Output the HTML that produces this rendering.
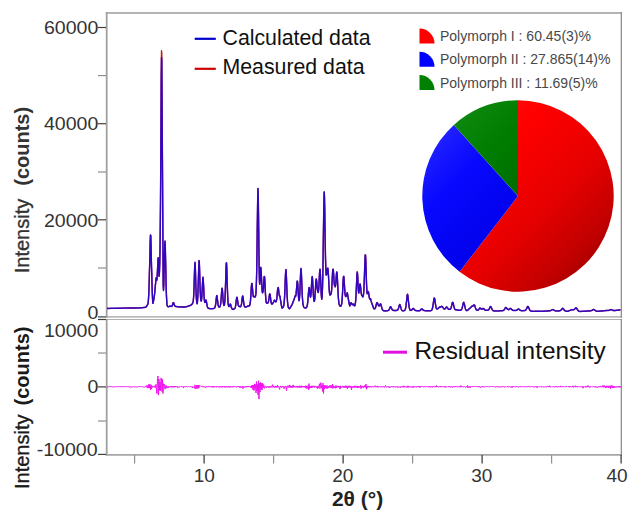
<!DOCTYPE html>
<html><head><meta charset="utf-8">
<style>
html,body{margin:0;padding:0;background:#fff;}
svg{display:block;}
text{font-family:"Liberation Sans",sans-serif;}
</style></head>
<body>
<svg width="638" height="521" viewBox="0 0 638 521">
<defs>
<linearGradient id="gR2" gradientUnits="userSpaceOnUse" x1="422" y1="100" x2="614" y2="292">
<stop offset="0" stop-color="#ff2020"/><stop offset="0.33" stop-color="#ff0000"/><stop offset="0.6" stop-color="#e60000"/><stop offset="0.8" stop-color="#c00000"/><stop offset="1" stop-color="#880000"/>
</linearGradient>
<linearGradient id="gB" gradientUnits="userSpaceOnUse" x1="422" y1="100" x2="614" y2="292">
<stop offset="0" stop-color="#3535ff"/><stop offset="0.3" stop-color="#0808ff"/><stop offset="0.6" stop-color="#0000e6"/><stop offset="1" stop-color="#0000a0"/>
</linearGradient>
<linearGradient id="gG" gradientUnits="userSpaceOnUse" x1="422" y1="100" x2="614" y2="292">
<stop offset="0" stop-color="#1a901a"/><stop offset="0.3" stop-color="#007e00"/><stop offset="0.6" stop-color="#006400"/><stop offset="1" stop-color="#004400"/>
</linearGradient>
</defs>

<!-- frames -->
<g fill="none">
<line x1="105.8" y1="13" x2="622" y2="13" stroke="#b4b4b4" stroke-width="2"/>
<line x1="106.7" y1="12" x2="106.7" y2="317.7" stroke="#a0a0a0" stroke-width="1.8"/>
<line x1="105.8" y1="316.9" x2="622" y2="316.9" stroke="#a0a0a0" stroke-width="1.2"/>
<line x1="621.3" y1="12" x2="621.3" y2="317.7" stroke="#858585" stroke-width="1.2"/>
<line x1="105.8" y1="319.5" x2="622" y2="319.5" stroke="#b0b0b0" stroke-width="1"/>
<line x1="106.7" y1="318.9" x2="106.7" y2="455.7" stroke="#a0a0a0" stroke-width="1.8"/>
<line x1="105.8" y1="454.8" x2="622" y2="454.8" stroke="#a6a6a6" stroke-width="1.7"/>
<line x1="621.3" y1="318.9" x2="621.3" y2="455.7" stroke="#858585" stroke-width="1.2"/>
</g>
<!-- y ticks top -->
<g stroke="#404040" stroke-width="1.2">
<line x1="98" y1="27.5" x2="106" y2="27.5"/>
<line x1="98" y1="123.7" x2="106" y2="123.7"/>
<line x1="98" y1="219.8" x2="106" y2="219.8"/>
<line x1="98" y1="316.9" x2="106" y2="316.9"/>
<line x1="98" y1="319.5" x2="106" y2="319.5"/>
<line x1="98" y1="386.9" x2="106" y2="386.9"/>
<line x1="98" y1="454.4" x2="106" y2="454.4"/>
</g>
<g stroke="#909090" stroke-width="1.2">
<line x1="98" y1="75.6" x2="106" y2="75.6"/>
<line x1="98" y1="172" x2="106" y2="172"/>
<line x1="98" y1="268" x2="106" y2="268"/>
<line x1="98" y1="353" x2="106" y2="353"/>
<line x1="98" y1="421" x2="106" y2="421"/>
</g>
<!-- x ticks -->
<g stroke="#303030" stroke-width="1.2">
<line x1="204.1" y1="455" x2="204.1" y2="463.5"/>
<line x1="343.1" y1="455" x2="343.1" y2="463.5"/>
<line x1="482.1" y1="455" x2="482.1" y2="463.5"/>
<line x1="621.1" y1="455" x2="621.1" y2="463.5"/>
</g>
<g stroke="#909090" stroke-width="1.2">
<line x1="134.6" y1="455" x2="134.6" y2="463.5"/>
<line x1="273.6" y1="455" x2="273.6" y2="463.5"/>
<line x1="412.6" y1="455" x2="412.6" y2="463.5"/>
<line x1="551.6" y1="455" x2="551.6" y2="463.5"/>
</g>

<!-- y labels -->
<g fill="#333" font-size="19" text-anchor="end">
<text transform="translate(98.3,33.5) scale(1.03,1)">60000</text>
<text transform="translate(98.3,130.2) scale(1.03,1)">40000</text>
<text transform="translate(98.3,226.6) scale(1.03,1)">20000</text>
<text transform="translate(98.3,318.5) scale(1.03,1)">0</text>
<text transform="translate(98.3,336.5) scale(1.03,1)">10000</text>
<text transform="translate(98.3,393.4) scale(1.03,1)">0</text>
<text transform="translate(97.6,456.2) scale(1.03,1)">-10000</text>
</g>
<!-- x labels -->
<g fill="#333" font-size="19" text-anchor="middle">
<text transform="translate(204.3,481.6)">10</text>
<text transform="translate(342.8,481.6)">20</text>
<text transform="translate(481.8,481.6)">30</text>
<text transform="translate(617,481.6)">40</text>
</g>
<!-- axis titles -->
<text x="357.5" y="505.8" font-size="21" font-weight="bold" fill="#222" text-anchor="middle">2θ (°)</text>
<text transform="translate(29,146.3) rotate(-90)" font-size="20" font-weight="bold" fill="#333" text-anchor="middle">(counts)</text>
<text transform="translate(29,236) rotate(-90)" font-size="20" fill="#333" stroke="#333" stroke-width="0.35" text-anchor="middle">Intensity</text>
<text transform="translate(29,366) rotate(-90)" font-size="20" font-weight="bold" fill="#1a1a1a" text-anchor="middle">(counts)</text>
<text transform="translate(29,451.8) rotate(-90)" font-size="20" fill="#1a1a1a" stroke="#1a1a1a" stroke-width="0.35" text-anchor="middle">Intensity</text>

<!-- legend -->
<line x1="194.7" y1="38.8" x2="215.8" y2="38.8" stroke="#0000cc" stroke-width="2.2"/>
<line x1="194.7" y1="68.8" x2="215.8" y2="68.8" stroke="#cc0000" stroke-width="2.2"/>
<text x="222.5" y="44.5" font-size="21.3" fill="#111">Calculated data</text>
<text x="222.5" y="73.5" font-size="21.3" fill="#111">Measured data</text>

<line x1="383" y1="352.2" x2="407" y2="352.2" stroke="#e010e0" stroke-width="3"/>
<text x="414.5" y="358.5" font-size="24.4" fill="#111">Residual intensity</text>

<!-- data -->
<polyline points="107.0,308.4 107.2,308.4 107.5,308.4 107.8,308.4 108.0,308.4 108.2,308.4 108.5,308.4 108.8,308.4 109.0,308.4 109.2,308.4 109.5,308.4 109.8,308.4 110.0,308.4 110.2,308.4 110.5,308.3 110.8,308.3 111.0,308.3 111.2,308.3 111.5,308.3 111.8,308.3 112.0,308.3 112.2,308.3 112.5,308.3 112.8,308.3 113.0,308.3 113.2,308.3 113.5,308.3 113.8,308.3 114.0,308.3 114.2,308.3 114.5,308.3 114.8,308.3 115.0,308.3 115.2,308.3 115.5,308.3 115.8,308.3 116.0,308.3 116.2,308.3 116.5,308.3 116.8,308.3 117.0,308.2 117.2,308.2 117.5,308.2 117.8,308.2 118.0,308.2 118.2,308.2 118.5,308.2 118.8,308.2 119.0,308.2 119.2,308.2 119.5,308.2 119.8,308.2 120.0,308.2 120.2,308.2 120.5,308.2 120.8,308.2 121.0,308.2 121.2,308.2 121.5,308.2 121.8,308.2 122.0,308.2 122.2,308.2 122.5,308.2 122.8,308.1 123.0,308.1 123.2,308.1 123.5,308.1 123.8,308.1 124.0,308.1 124.2,308.1 124.5,308.1 124.8,308.1 125.0,308.1 125.2,308.1 125.5,308.1 125.8,308.1 126.0,308.1 126.2,308.1 126.5,308.1 126.8,308.1 127.0,308.1 127.2,308.1 127.5,308.1 127.8,308.1 128.0,308.0 128.2,308.0 128.5,308.0 128.8,308.0 129.0,308.0 129.2,308.0 129.5,308.0 129.8,308.0 130.0,308.0 130.2,308.0 130.5,308.0 130.8,308.0 131.0,308.0 131.2,308.0 131.5,308.0 131.8,308.0 132.0,308.0 132.2,308.0 132.5,308.0 132.8,308.0 133.0,308.0 133.2,308.0 133.5,308.0 133.8,308.0 134.0,308.0 134.2,308.0 134.5,308.0 134.8,308.0 135.0,308.0 135.2,308.0 135.5,308.0 135.8,307.9 136.0,307.9 136.2,307.9 136.5,307.9 136.8,307.9 137.0,307.9 137.2,307.9 137.5,307.9 137.8,307.9 138.0,307.9 138.2,307.9 138.5,307.9 138.8,307.9 139.0,307.9 139.2,307.9 139.5,307.9 139.8,307.8 140.0,307.8 140.2,307.8 140.5,307.8 140.8,307.8 141.0,307.8 141.2,307.8 141.5,307.8 141.8,307.7 142.0,307.7 142.2,307.7 142.5,307.7 142.8,307.7 143.0,307.6 143.2,307.6 143.5,307.6 143.8,307.5 144.0,307.5 144.2,307.5 144.5,307.4 144.8,307.4 145.0,307.3 145.2,307.2 145.5,307.2 145.8,307.1 146.0,307.0 146.2,306.7 146.5,306.4 146.8,306.0 147.0,305.6 147.2,305.2 147.5,304.8 147.8,304.2 148.0,303.6 148.2,302.3 148.5,298.6 148.8,294.3 149.0,288.6 149.2,280.9 149.5,270.0 149.8,261.9 150.0,251.2 150.2,240.5 150.5,235.0 150.8,235.7 151.0,243.3 151.2,254.9 151.5,265.9 151.8,273.8 152.0,283.6 152.2,291.7 152.5,297.9 152.8,303.0 153.0,303.2 153.2,302.1 153.5,300.9 153.8,299.5 154.0,298.1 154.2,296.6 154.5,295.0 154.8,292.3 155.0,289.6 155.2,286.9 155.5,284.0 155.8,281.1 156.0,278.0 156.2,279.4 156.5,280.2 156.8,280.1 157.0,278.5 157.2,275.0 157.5,270.3 157.8,264.5 158.0,259.2 158.2,257.6 158.5,260.3 158.8,267.5 159.0,276.0 159.2,275.1 159.5,271.1 159.8,262.4 160.0,251.1 160.2,231.8 160.5,201.1 160.8,162.9 161.0,118.9 161.2,75.6 161.5,50.6 161.8,53.1 162.0,83.3 162.2,127.8 162.5,170.5 162.8,215.1 163.0,255.4 163.2,284.6 163.5,289.9 163.8,285.0 164.0,275.1 164.2,264.4 164.5,253.7 164.8,244.3 165.0,241.0 165.2,245.3 165.5,255.7 165.8,267.7 166.0,279.9 166.2,289.7 166.5,296.7 166.8,301.5 167.0,304.8 167.2,305.7 167.5,306.2 167.8,306.5 168.0,306.7 168.2,306.7 168.5,306.7 168.8,306.7 169.0,306.6 169.2,306.5 169.5,306.3 169.8,306.2 170.0,306.0 170.2,306.1 170.5,306.2 170.8,306.3 171.0,306.3 171.2,306.4 171.5,306.3 171.8,306.2 172.0,306.0 172.2,305.6 172.5,304.9 172.8,304.1 173.0,303.3 173.2,302.7 173.5,302.6 173.8,303.1 174.0,303.9 174.2,304.7 174.5,305.3 174.8,305.8 175.0,306.0 175.2,306.2 175.5,306.4 175.8,306.5 176.0,306.5 176.2,306.6 176.5,306.6 176.8,306.6 177.0,306.7 177.2,306.7 177.5,306.7 177.8,306.7 178.0,306.8 178.2,306.8 178.5,306.8 178.8,306.8 179.0,306.8 179.2,306.9 179.5,306.9 179.8,306.9 180.0,306.9 180.2,306.9 180.5,306.9 180.8,306.9 181.0,306.9 181.2,306.9 181.5,307.0 181.8,307.0 182.0,307.0 182.2,307.0 182.5,307.0 182.8,307.0 183.0,307.0 183.2,307.0 183.5,307.0 183.8,307.0 184.0,307.0 184.2,307.0 184.5,307.0 184.8,307.0 185.0,307.0 185.2,306.9 185.5,306.9 185.8,306.8 186.0,306.8 186.2,306.7 186.5,306.6 186.8,306.6 187.0,306.5 187.2,306.5 187.5,306.4 187.8,306.3 188.0,306.2 188.2,306.2 188.5,306.1 188.8,306.0 189.0,305.9 189.2,305.8 189.5,305.7 189.8,305.7 190.0,305.5 190.2,305.4 190.5,305.3 190.8,305.2 191.0,305.0 191.2,304.9 191.5,304.7 191.8,304.5 192.0,304.2 192.2,303.9 192.5,303.5 192.8,302.9 193.0,302.2 193.2,300.9 193.5,298.4 193.8,294.4 194.0,288.4 194.2,280.7 194.5,272.2 194.8,265.1 195.0,262.3 195.2,265.4 195.5,272.9 195.8,281.7 196.0,289.7 196.2,295.9 196.5,300.1 196.8,302.6 197.0,303.7 197.2,303.5 197.5,301.5 197.8,297.7 198.0,291.9 198.2,284.0 198.5,274.9 198.8,266.2 199.0,260.6 199.2,261.1 199.5,267.1 199.8,275.8 200.0,284.4 200.2,291.4 200.5,296.4 200.8,299.4 201.0,300.8 201.2,301.0 201.5,300.0 201.8,297.6 202.0,293.9 202.2,288.9 202.5,283.5 202.8,278.9 203.0,277.2 203.2,279.2 203.5,284.0 203.8,289.6 204.0,294.8 204.2,298.7 204.5,301.2 204.8,302.4 205.0,302.5 205.2,301.9 205.5,301.0 205.8,300.2 206.0,300.0 206.2,300.7 206.5,302.0 206.8,303.6 207.0,305.0 207.2,306.2 207.5,307.0 207.8,307.6 208.0,308.0 208.2,308.2 208.5,308.3 208.8,308.4 209.0,308.5 209.2,308.5 209.5,308.6 209.8,308.6 210.0,308.6 210.2,308.7 210.5,308.7 210.8,308.7 211.0,308.7 211.2,308.7 211.5,308.7 211.8,308.7 212.0,308.7 212.2,308.7 212.5,308.7 212.8,308.7 213.0,308.7 213.2,308.6 213.5,308.6 213.8,308.5 214.0,308.4 214.2,308.2 214.5,308.0 214.8,307.7 215.0,307.2 215.2,306.4 215.5,305.2 215.8,303.5 216.0,301.4 216.2,298.9 216.5,296.8 216.8,295.6 217.0,296.1 217.2,297.8 217.5,300.1 217.8,302.4 218.0,304.2 218.2,305.5 218.5,306.3 218.8,306.8 219.0,307.0 219.2,307.1 219.5,307.0 219.8,306.9 220.0,306.5 220.2,305.9 220.5,304.9 220.8,303.2 221.0,300.7 221.2,297.5 221.5,293.8 221.8,290.4 222.0,288.2 222.2,288.5 222.5,291.0 222.8,294.6 223.0,298.3 223.2,301.3 223.5,303.5 223.8,304.9 224.0,305.5 224.2,305.3 224.5,304.2 224.8,302.0 225.0,298.4 225.2,293.0 225.5,285.8 225.8,277.4 226.0,269.1 226.2,263.4 226.5,262.8 226.8,267.7 227.0,275.7 227.2,284.3 227.5,291.9 227.8,297.7 228.0,301.7 228.2,304.3 228.5,305.7 228.8,306.5 229.0,306.5 229.2,306.2 229.5,305.6 229.8,305.0 230.0,304.4 230.2,304.0 230.5,304.3 230.8,305.1 231.0,306.0 231.2,306.9 231.5,307.7 231.8,308.3 232.0,308.7 232.2,309.0 232.5,309.3 232.8,309.4 233.0,309.4 233.2,309.3 233.5,309.2 233.8,309.1 234.0,309.0 234.2,308.9 234.5,308.7 234.8,308.5 235.0,308.0 235.2,307.4 235.5,306.4 235.8,305.0 236.0,303.1 236.2,300.9 236.5,298.9 236.8,297.4 237.0,297.2 237.2,298.2 237.5,300.0 237.8,301.9 238.0,303.6 238.2,304.9 238.5,305.7 238.8,306.2 239.0,306.4 239.2,306.5 239.5,306.4 239.8,306.6 240.0,306.7 240.2,306.7 240.5,306.7 240.8,306.4 241.0,306.0 241.2,305.2 241.5,303.9 241.8,302.2 242.0,300.1 242.2,297.9 242.5,296.4 242.8,296.0 243.0,296.9 243.2,298.8 243.5,301.0 243.8,303.0 244.0,304.6 244.2,305.7 244.5,306.4 244.8,306.8 245.0,307.0 245.2,307.0 245.5,307.0 245.8,307.0 246.0,306.9 246.2,306.9 246.5,306.8 246.8,306.7 247.0,306.6 247.2,306.4 247.5,306.3 247.8,306.2 248.0,306.0 248.2,306.0 248.5,306.1 248.8,306.1 249.0,306.0 249.2,305.9 249.5,305.6 249.8,305.1 250.0,304.3 250.2,302.8 250.5,300.5 250.8,297.3 251.0,293.3 251.2,288.9 251.5,285.2 251.8,283.4 252.0,283.4 252.2,285.5 252.5,288.7 252.8,292.0 253.0,294.5 253.2,296.1 253.5,296.8 253.8,296.8 254.0,296.3 254.2,296.4 254.5,296.8 254.8,297.0 255.0,297.0 255.2,296.8 255.5,296.2 255.8,294.8 256.0,292.1 256.2,287.3 256.5,279.4 256.8,267.5 257.0,251.3 257.2,231.6 257.5,211.2 257.8,194.8 258.0,188.5 258.2,196.4 258.5,214.3 258.8,235.9 259.0,256.1 259.2,272.1 259.5,282.6 259.8,284.2 260.0,281.6 260.2,276.4 260.5,270.8 260.8,267.3 261.0,268.3 261.2,272.6 261.5,278.4 261.8,284.0 262.0,288.5 262.2,291.5 262.5,292.7 262.8,292.3 263.0,291.6 263.2,289.7 263.5,286.5 263.8,282.5 264.0,278.6 264.2,276.4 264.5,276.8 264.8,279.6 265.0,284.4 265.2,289.6 265.5,294.4 265.8,298.1 266.0,300.6 266.2,302.1 266.5,302.9 266.8,303.2 267.0,303.2 267.2,303.1 267.5,302.7 267.8,302.9 268.0,302.9 268.2,302.4 268.5,301.5 268.8,300.1 269.0,298.2 269.2,296.2 269.5,294.6 269.8,293.9 270.0,294.2 270.2,295.7 270.5,297.7 270.8,299.8 271.0,301.6 271.2,302.8 271.5,303.6 271.8,304.0 272.0,304.1 272.2,304.0 272.5,303.7 272.8,303.3 273.0,302.9 273.2,302.5 273.5,302.1 273.8,301.6 274.0,301.2 274.2,300.7 274.5,300.2 274.8,300.3 275.0,300.8 275.2,301.2 275.5,301.6 275.8,301.8 276.0,301.8 276.2,301.4 276.5,300.4 276.8,298.8 277.0,296.4 277.2,293.5 277.5,290.5 277.8,288.2 278.0,287.7 278.2,287.5 278.5,289.0 278.8,291.3 279.0,293.5 279.2,295.2 279.5,296.1 279.8,296.3 280.0,296.0 280.2,298.0 280.5,299.8 280.8,301.4 281.0,302.9 281.2,304.3 281.5,305.8 281.8,307.2 282.0,308.0 282.2,307.9 282.5,307.7 282.8,307.6 283.0,307.3 283.2,307.0 283.5,306.4 283.8,305.5 284.0,304.0 284.2,301.7 284.5,298.2 284.8,293.4 285.0,287.3 285.2,280.5 285.5,274.2 285.8,270.0 286.0,269.6 286.2,273.2 286.5,279.3 286.8,286.2 287.0,292.5 287.2,297.7 287.5,301.5 287.8,304.1 288.0,305.8 288.2,306.9 288.5,307.6 288.8,308.0 289.0,308.4 289.2,308.7 289.5,308.7 289.8,308.3 290.0,308.0 290.2,307.6 290.5,307.2 290.8,306.8 291.0,306.4 291.2,305.9 291.5,305.5 291.8,305.0 292.0,304.6 292.2,304.1 292.5,303.5 292.8,302.9 293.0,302.2 293.2,301.5 293.5,300.9 293.8,300.2 294.0,299.5 294.2,298.7 294.5,297.9 294.8,297.0 295.0,296.0 295.2,296.4 295.5,296.5 295.8,295.9 296.0,294.6 296.2,292.4 296.5,289.4 296.8,286.0 297.0,282.9 297.2,281.1 297.5,281.5 297.8,284.0 298.0,288.1 298.2,292.6 298.5,296.6 298.8,299.6 299.0,300.7 299.2,300.2 299.5,298.0 299.8,294.2 300.0,288.8 300.2,282.4 300.5,275.8 300.8,270.6 301.0,268.5 301.2,270.6 301.5,275.8 301.8,282.4 302.0,288.9 302.2,294.6 302.5,299.0 302.8,302.1 303.0,304.2 303.2,305.5 303.5,306.3 303.8,306.9 304.0,307.2 304.2,307.5 304.5,307.6 304.8,307.8 305.0,307.9 305.2,307.9 305.5,308.0 305.8,308.0 306.0,307.9 306.2,307.7 306.5,307.4 306.8,307.0 307.0,306.4 307.2,305.5 307.5,304.0 307.8,302.0 308.0,299.3 308.2,296.0 308.5,292.6 308.8,289.5 309.0,287.6 309.2,287.6 309.5,289.4 309.8,292.0 310.0,294.7 310.2,296.5 310.5,297.1 310.8,296.3 311.0,293.9 311.2,290.1 311.5,285.5 311.8,280.9 312.0,277.5 312.2,276.6 312.5,278.7 312.8,282.8 313.0,287.8 313.2,292.6 313.5,296.5 313.8,299.3 314.0,300.9 314.2,301.4 314.5,300.7 314.8,298.8 315.0,295.9 315.2,292.0 315.5,287.6 315.8,283.3 316.0,280.1 316.2,279.0 316.5,279.7 316.8,282.1 317.0,285.3 317.2,288.2 317.5,290.3 317.8,291.3 318.0,292.4 318.2,292.5 318.5,291.1 318.8,288.3 319.0,284.2 319.2,279.2 319.5,274.1 319.8,270.3 320.0,269.2 320.2,271.4 320.5,276.4 320.8,282.5 321.0,288.6 321.2,293.7 321.5,297.3 321.8,299.2 322.0,298.1 322.2,294.4 322.5,287.7 322.8,277.7 323.0,263.9 323.2,246.7 323.5,227.6 323.8,209.3 324.0,196.0 324.2,191.9 324.5,197.8 324.8,211.5 325.0,228.3 325.2,244.6 325.5,258.0 325.8,267.6 326.0,273.2 326.2,275.1 326.5,273.9 326.8,274.3 327.0,272.9 327.2,270.6 327.5,268.5 327.8,268.1 328.0,269.3 328.2,271.7 328.5,276.1 328.8,281.3 329.0,286.1 329.2,290.0 329.5,292.8 329.8,294.4 330.0,295.1 330.2,295.1 330.5,294.4 330.8,294.3 331.0,294.2 331.2,293.2 331.5,291.2 331.8,288.0 332.0,283.7 332.2,278.7 332.5,273.7 332.8,270.0 333.0,269.2 333.2,269.2 333.5,272.0 333.8,276.1 334.0,280.2 334.2,283.4 334.5,285.4 334.8,285.8 335.0,286.0 335.2,286.8 335.5,286.0 335.8,283.9 336.0,280.6 336.2,276.9 336.5,273.5 336.8,272.0 337.0,272.8 337.2,275.6 337.5,280.5 337.8,286.1 338.0,291.4 338.2,296.0 338.5,299.4 338.8,301.8 339.0,303.4 339.2,304.5 339.5,305.2 339.8,305.7 340.0,306.0 340.2,306.1 340.5,306.2 340.8,306.1 341.0,305.9 341.2,305.4 341.5,304.5 341.8,303.1 342.0,300.8 342.2,297.7 342.5,293.5 342.8,288.7 343.0,283.6 343.2,279.2 343.5,276.7 343.8,276.4 344.0,278.4 344.2,282.1 344.5,286.3 344.8,290.1 345.0,293.1 345.2,295.1 345.5,296.2 345.8,296.6 346.0,296.5 346.2,296.0 346.5,295.4 346.8,294.5 347.0,293.6 347.2,292.7 347.5,293.8 347.8,295.4 348.0,297.0 348.2,298.5 348.5,300.0 348.8,301.4 349.0,302.8 349.2,304.0 349.5,305.0 349.8,305.9 350.0,305.4 350.2,304.5 350.5,303.6 350.8,303.0 351.0,302.7 351.2,302.8 351.5,303.3 351.8,303.9 352.0,304.4 352.2,304.7 352.5,304.7 352.8,304.4 353.0,304.2 353.2,304.0 353.5,304.2 353.8,304.6 354.0,305.2 354.2,305.6 354.5,305.8 354.8,305.8 355.0,305.3 355.2,304.2 355.5,302.3 355.8,299.4 356.0,295.5 356.2,290.6 356.5,284.9 356.8,279.1 357.0,274.4 357.2,271.9 357.5,273.4 357.8,277.6 358.0,283.1 358.2,288.5 358.5,292.1 358.8,293.0 359.0,292.3 359.2,290.3 359.5,287.5 359.8,285.1 360.0,283.9 360.2,284.2 360.5,286.0 360.8,288.5 361.0,291.1 361.2,293.2 361.5,294.7 361.8,295.5 362.0,295.6 362.2,295.5 362.5,296.4 362.8,296.9 363.0,296.8 363.2,296.1 363.5,294.3 363.8,291.4 364.0,286.9 364.2,280.9 364.5,273.7 364.8,266.0 365.0,259.1 365.2,254.9 365.5,255.0 365.8,259.5 366.0,266.9 366.2,275.2 366.5,283.0 366.8,289.2 367.0,292.8 367.2,293.7 367.5,293.3 367.8,292.2 368.0,291.4 368.2,291.4 368.5,292.3 368.8,293.9 369.0,295.6 369.2,297.1 369.5,298.3 369.8,299.0 370.0,299.2 370.2,299.1 370.5,298.7 370.8,299.7 371.0,300.6 371.2,301.5 371.5,302.3 371.8,303.0 372.0,303.7 372.2,304.4 372.5,305.1 372.8,305.8 373.0,306.5 373.2,307.2 373.5,307.8 373.8,308.4 374.0,308.8 374.2,308.8 374.5,308.8 374.8,308.7 375.0,308.5 375.2,308.1 375.5,307.5 375.8,306.8 376.0,305.8 376.2,304.7 376.5,303.7 376.8,303.0 377.0,302.7 377.2,302.6 377.5,303.1 377.8,303.8 378.0,304.5 378.2,305.1 378.5,305.4 378.8,305.7 379.0,306.0 379.2,305.9 379.5,305.6 379.8,305.1 380.0,304.5 380.2,304.0 380.5,303.9 380.8,304.1 381.0,304.8 381.2,305.7 381.5,306.7 381.8,307.7 382.0,308.5 382.2,309.2 382.5,309.7 382.8,310.1 383.0,310.3 383.2,310.5 383.5,310.7 383.8,310.8 384.0,310.8 384.2,310.8 384.5,310.8 384.8,310.9 385.0,310.9 385.2,310.9 385.5,310.9 385.8,310.8 386.0,310.8 386.2,310.8 386.5,310.8 386.8,310.8 387.0,310.8 387.2,310.7 387.5,310.7 387.8,310.6 388.0,310.6 388.2,310.5 388.5,310.3 388.8,310.1 389.0,309.7 389.2,309.3 389.5,308.8 389.8,308.2 390.0,307.6 390.2,307.0 390.5,306.7 390.8,306.8 391.0,307.1 391.2,307.6 391.5,308.2 391.8,308.8 392.0,309.3 392.2,309.7 392.5,309.9 392.8,310.1 393.0,310.3 393.2,310.4 393.5,310.4 393.8,310.5 394.0,310.5 394.2,310.5 394.5,310.5 394.8,310.5 395.0,310.5 395.2,310.5 395.5,310.5 395.8,310.5 396.0,310.5 396.2,310.5 396.5,310.4 396.8,310.4 397.0,310.3 397.2,310.2 397.5,310.1 397.8,309.8 398.0,309.4 398.2,308.9 398.5,308.2 398.8,307.4 399.0,306.5 399.2,305.6 399.5,304.9 399.8,304.5 400.0,304.7 400.2,305.4 400.5,306.3 400.8,307.2 401.0,308.2 401.2,309.0 401.5,309.6 401.8,310.1 402.0,310.4 402.2,310.6 402.5,310.7 402.8,310.7 403.0,310.8 403.2,310.8 403.5,310.8 403.8,310.7 404.0,310.7 404.2,310.6 404.5,310.5 404.8,310.2 405.0,309.9 405.2,309.3 405.5,308.5 405.8,307.4 406.0,305.9 406.2,303.9 406.5,301.6 406.8,299.1 407.0,296.8 407.2,295.0 407.5,294.3 407.8,295.0 408.0,296.8 408.2,299.2 408.5,301.7 408.8,304.0 409.0,306.0 409.2,307.5 409.5,308.6 409.8,309.4 410.0,310.0 410.2,310.2 410.5,310.3 410.8,310.4 411.0,310.4 411.2,310.3 411.5,310.2 411.8,310.0 412.0,309.7 412.2,309.4 412.5,309.0 412.8,308.7 413.0,308.5 413.2,308.4 413.5,308.5 413.8,308.8 414.0,309.1 414.2,309.5 414.5,309.8 414.8,310.0 415.0,310.2 415.2,310.4 415.5,310.5 415.8,310.6 416.0,310.6 416.2,310.6 416.5,310.7 416.8,310.7 417.0,310.7 417.2,310.7 417.5,310.7 417.8,310.8 418.0,310.8 418.2,310.8 418.5,310.8 418.8,310.8 419.0,310.8 419.2,310.7 419.5,310.7 419.8,310.6 420.0,310.5 420.2,310.3 420.5,310.1 420.8,309.8 421.0,309.5 421.2,309.2 421.5,309.0 421.8,308.9 422.0,308.9 422.2,309.1 422.5,309.4 422.8,309.6 423.0,309.9 423.2,310.1 423.5,310.3 423.8,310.4 424.0,310.5 424.2,310.6 424.5,310.6 424.8,310.6 425.0,310.7 425.2,310.7 425.5,310.7 425.8,310.7 426.0,310.8 426.2,310.8 426.5,310.8 426.8,310.8 427.0,310.8 427.2,310.8 427.5,310.8 427.8,310.8 428.0,310.8 428.2,310.8 428.5,310.8 428.8,310.8 429.0,310.8 429.2,310.8 429.5,310.8 429.8,310.8 430.0,310.8 430.2,310.8 430.5,310.7 430.8,310.7 431.0,310.6 431.2,310.5 431.5,310.3 431.8,310.0 432.0,309.6 432.2,309.0 432.5,308.1 432.8,307.0 433.0,305.5 433.2,303.8 433.5,301.9 433.8,300.1 434.0,298.7 434.2,298.0 434.5,298.3 434.8,299.3 435.0,300.9 435.2,302.7 435.5,304.4 435.8,305.9 436.0,307.1 436.2,308.0 436.5,308.6 436.8,308.9 437.0,309.0 437.2,309.0 437.5,308.8 437.8,308.7 438.0,308.5 438.2,308.3 438.5,308.1 438.8,307.9 439.0,307.6 439.2,307.3 439.5,307.0 439.8,307.2 440.0,307.3 440.2,307.3 440.5,307.2 440.8,307.0 441.0,306.8 441.2,306.5 441.5,306.3 441.8,306.4 442.0,306.5 442.2,306.6 442.5,306.9 442.8,307.3 443.0,307.7 443.2,308.0 443.5,308.3 443.8,308.5 444.0,308.8 444.2,308.9 444.5,309.0 444.8,309.0 445.0,308.8 445.2,308.5 445.5,308.2 445.8,307.8 446.0,307.4 446.2,307.1 446.5,307.0 446.8,307.0 447.0,307.2 447.2,307.6 447.5,308.0 447.8,308.4 448.0,308.8 448.2,309.0 448.5,309.2 448.8,309.3 449.0,309.4 449.2,309.3 449.5,309.3 449.8,309.3 450.0,309.3 450.2,309.2 450.5,308.9 450.8,308.6 451.0,308.0 451.2,307.2 451.5,306.3 451.8,305.2 452.0,304.1 452.2,303.1 452.5,302.4 452.8,302.3 453.0,302.7 453.2,303.5 453.5,304.6 453.8,305.8 454.0,306.9 454.2,307.8 454.5,308.5 454.8,309.0 455.0,309.3 455.2,309.6 455.5,309.7 455.8,309.8 456.0,309.8 456.2,309.8 456.5,309.8 456.8,309.9 457.0,310.0 457.2,310.0 457.5,310.0 457.8,310.1 458.0,310.1 458.2,310.2 458.5,310.2 458.8,310.2 459.0,310.3 459.2,310.3 459.5,310.3 459.8,310.3 460.0,310.3 460.2,310.2 460.5,310.2 460.8,310.1 461.0,310.0 461.2,309.8 461.5,309.5 461.8,309.0 462.0,308.4 462.2,307.5 462.5,306.5 462.8,305.4 463.0,304.2 463.2,303.2 463.5,302.5 463.8,302.3 464.0,302.8 464.2,303.7 464.5,304.8 464.8,306.0 465.0,307.2 465.2,308.2 465.5,309.0 465.8,309.6 466.0,310.0 466.2,310.3 466.5,310.5 466.8,310.7 467.0,310.6 467.2,310.4 467.5,310.3 467.8,310.1 468.0,309.9 468.2,309.7 468.5,309.5 468.8,309.2 469.0,309.0 469.2,308.8 469.5,308.6 469.8,308.4 470.0,308.1 470.2,307.9 470.5,307.7 470.8,307.4 471.0,307.2 471.2,306.9 471.5,306.6 471.8,306.2 472.0,306.1 472.2,306.2 472.5,306.3 472.8,306.2 473.0,306.0 473.2,305.7 473.5,305.3 473.8,305.0 474.0,304.9 474.2,305.0 474.5,305.2 474.8,305.7 475.0,306.4 475.2,307.2 475.5,308.0 475.8,308.6 476.0,309.2 476.2,309.6 476.5,309.9 476.8,310.1 477.0,310.3 477.2,310.3 477.5,310.3 477.8,310.3 478.0,310.1 478.2,310.0 478.5,309.7 478.8,309.4 479.0,309.1 479.2,308.7 479.5,308.4 479.8,308.1 480.0,308.0 480.2,308.1 480.5,308.3 480.8,308.6 481.0,308.9 481.2,309.1 481.5,309.3 481.8,309.3 482.0,309.2 482.2,309.0 482.5,308.8 482.8,308.6 483.0,308.4 483.2,308.4 483.5,308.5 483.8,308.7 484.0,309.0 484.2,309.3 484.5,309.6 484.8,309.8 485.0,310.0 485.2,310.1 485.5,310.2 485.8,310.3 486.0,310.3 486.2,310.3 486.5,310.3 486.8,310.3 487.0,310.3 487.2,310.3 487.5,310.3 487.8,310.3 488.0,310.2 488.2,310.1 488.5,309.9 488.8,309.6 489.0,309.3 489.2,308.8 489.5,308.3 489.8,307.7 490.0,307.2 490.2,306.7 490.5,306.5 490.8,306.6 491.0,306.9 491.2,307.4 491.5,308.0 491.8,308.6 492.0,309.2 492.2,309.6 492.5,310.0 492.8,310.3 493.0,310.5 493.2,310.7 493.5,310.8 493.8,310.8 494.0,310.9 494.2,310.9 494.5,310.9 494.8,310.9 495.0,310.9 495.2,310.9 495.5,310.9 495.8,310.9 496.0,310.9 496.2,310.9 496.5,310.9 496.8,310.9 497.0,310.9 497.2,310.9 497.5,310.9 497.8,310.9 498.0,310.9 498.2,310.9 498.5,310.9 498.8,310.9 499.0,310.9 499.2,310.9 499.5,310.8 499.8,310.8 500.0,310.8 500.2,310.8 500.5,310.8 500.8,310.8 501.0,310.8 501.2,310.8 501.5,310.7 501.8,310.7 502.0,310.7 502.2,310.7 502.5,310.7 502.8,310.6 503.0,310.6 503.2,310.5 503.5,310.4 503.8,310.2 504.0,310.0 504.2,309.6 504.5,309.3 504.8,308.8 505.0,308.4 505.2,308.0 505.5,307.7 505.8,307.5 506.0,307.5 506.2,307.7 506.5,308.0 506.8,308.3 507.0,308.7 507.2,309.0 507.5,309.2 507.8,309.3 508.0,309.5 508.2,309.6 508.5,309.7 508.8,309.6 509.0,309.5 509.2,309.3 509.5,309.0 509.8,308.8 510.0,308.6 510.2,308.4 510.5,308.4 510.8,308.5 511.0,308.7 511.2,308.9 511.5,309.2 511.8,309.5 512.0,309.8 512.2,310.0 512.5,310.2 512.8,310.3 513.0,310.4 513.2,310.4 513.5,310.4 513.8,310.4 514.0,310.4 514.2,310.4 514.5,310.4 514.8,310.4 515.0,310.4 515.2,310.4 515.5,310.4 515.8,310.4 516.0,310.4 516.2,310.4 516.5,310.3 516.8,310.2 517.0,310.0 517.2,309.8 517.5,309.6 517.8,309.4 518.0,309.2 518.2,309.0 518.5,309.0 518.8,309.1 519.0,309.2 519.2,309.4 519.5,309.7 519.8,309.9 520.0,310.1 520.2,310.3 520.5,310.4 520.8,310.5 521.0,310.6 521.2,310.6 521.5,310.7 521.8,310.7 522.0,310.7 522.2,310.7 522.5,310.7 522.8,310.7 523.0,310.7 523.2,310.7 523.5,310.6 523.8,310.6 524.0,310.6 524.2,310.6 524.5,310.6 524.8,310.5 525.0,310.5 525.2,310.4 525.5,310.2 525.8,310.0 526.0,309.7 526.2,309.4 526.5,308.9 526.8,308.4 527.0,307.8 527.2,307.2 527.5,306.7 527.8,306.4 528.0,306.4 528.2,306.7 528.5,307.2 528.8,307.8 529.0,308.4 529.2,309.0 529.5,309.5 529.8,310.0 530.0,310.3 530.2,310.6 530.5,310.8 530.8,310.9 531.0,311.0 531.2,311.1 531.5,311.2 531.8,311.2 532.0,311.2 532.2,311.2 532.5,311.2 532.8,311.3 533.0,311.3 533.2,311.3 533.5,311.3 533.8,311.3 534.0,311.3 534.2,311.3 534.5,311.3 534.8,311.3 535.0,311.3 535.2,311.3 535.5,311.2 535.8,311.2 536.0,311.2 536.2,311.2 536.5,311.2 536.8,311.2 537.0,311.2 537.2,311.2 537.5,311.2 537.8,311.2 538.0,311.2 538.2,311.2 538.5,311.2 538.8,311.2 539.0,311.2 539.2,311.2 539.5,311.2 539.8,311.2 540.0,311.3 540.2,311.3 540.5,311.3 540.8,311.3 541.0,311.3 541.2,311.3 541.5,311.3 541.8,311.3 542.0,311.3 542.2,311.3 542.5,311.3 542.8,311.2 543.0,311.2 543.2,311.2 543.5,311.2 543.8,311.2 544.0,311.2 544.2,311.2 544.5,311.1 544.8,311.1 545.0,311.1 545.2,311.1 545.5,311.1 545.8,311.1 546.0,311.1 546.2,311.1 546.5,311.0 546.8,311.0 547.0,311.0 547.2,311.0 547.5,311.0 547.8,311.0 548.0,311.0 548.2,310.9 548.5,310.9 548.8,310.9 549.0,310.9 549.2,310.9 549.5,310.8 549.8,310.8 550.0,310.8 550.2,310.7 550.5,310.6 550.8,310.5 551.0,310.4 551.2,310.3 551.5,310.1 551.8,310.0 552.0,309.9 552.2,309.7 552.5,309.6 552.8,309.6 553.0,309.6 553.2,309.7 553.5,309.9 553.8,310.0 554.0,310.2 554.2,310.4 554.5,310.5 554.8,310.6 555.0,310.7 555.2,310.8 555.5,310.8 555.8,310.9 556.0,310.9 556.2,310.9 556.5,310.9 556.8,310.9 557.0,310.9 557.2,310.9 557.5,310.9 557.8,310.9 558.0,310.9 558.2,310.9 558.5,310.9 558.8,310.9 559.0,310.9 559.2,310.9 559.5,310.8 559.8,310.8 560.0,310.7 560.2,310.6 560.5,310.5 560.8,310.3 561.0,310.1 561.2,309.8 561.5,309.5 561.8,309.2 562.0,308.8 562.2,308.5 562.5,308.4 562.8,308.3 563.0,308.4 563.2,308.7 563.5,309.0 563.8,309.4 564.0,309.7 564.2,310.1 564.5,310.3 564.8,310.6 565.0,310.7 565.2,310.9 565.5,311.0 565.8,311.1 566.0,311.1 566.2,311.2 566.5,311.2 566.8,311.2 567.0,311.3 567.2,311.3 567.5,311.3 567.8,311.3 568.0,311.2 568.2,311.1 568.5,311.0 568.8,310.9 569.0,310.8 569.2,310.7 569.5,310.6 569.8,310.5 570.0,310.4 570.2,310.3 570.5,310.2 570.8,310.1 571.0,310.0 571.2,309.9 571.5,309.8 571.8,309.7 572.0,309.6 572.2,309.7 572.5,309.7 572.8,309.8 573.0,309.8 573.2,309.8 573.5,309.8 573.8,309.7 574.0,309.6 574.2,309.5 574.5,309.3 574.8,309.0 575.0,308.7 575.2,308.4 575.5,308.1 575.8,307.9 576.0,307.8 576.2,307.9 576.5,308.1 576.8,308.5 577.0,308.9 577.2,309.3 577.5,309.8 577.8,310.1 578.0,310.5 578.2,310.7 578.5,310.9 578.8,311.1 579.0,311.3 579.2,311.3 579.5,311.4 579.8,311.4 580.0,311.4 580.2,311.4 580.5,311.4 580.8,311.4 581.0,311.4 581.2,311.4 581.5,311.4 581.8,311.3 582.0,311.3 582.2,311.3 582.5,311.3 582.8,311.3 583.0,311.3 583.2,311.3 583.5,311.3 583.8,311.3 584.0,311.2 584.2,311.2 584.5,311.2 584.8,311.2 585.0,311.2 585.2,311.2 585.5,311.2 585.8,311.1 586.0,311.1 586.2,311.1 586.5,311.1 586.8,311.1 587.0,311.1 587.2,311.0 587.5,311.0 587.8,311.0 588.0,311.0 588.2,311.0 588.5,311.0 588.8,310.9 589.0,310.9 589.2,310.9 589.5,310.9 589.8,310.9 590.0,310.8 590.2,310.8 590.5,310.8 590.8,310.7 591.0,310.7 591.2,310.6 591.5,310.5 591.8,310.5 592.0,310.4 592.2,310.2 592.5,310.1 592.8,309.9 593.0,309.7 593.2,309.6 593.5,309.5 593.8,309.5 594.0,309.6 594.2,309.7 594.5,309.9 594.8,310.1 595.0,310.3 595.2,310.5 595.5,310.7 595.8,310.8 596.0,310.9 596.2,311.0 596.5,311.1 596.8,311.2 597.0,311.2 597.2,311.3 597.5,311.3 597.8,311.3 598.0,311.3 598.2,311.3 598.5,311.2 598.8,311.2 599.0,311.2 599.2,311.2 599.5,311.2 599.8,311.1 600.0,311.1 600.2,311.1 600.5,311.1 600.8,311.0 601.0,311.0 601.2,311.0 601.5,311.0 601.8,311.0 602.0,310.9 602.2,310.9 602.5,310.9 602.8,310.9 603.0,310.8 603.2,310.8 603.5,310.8 603.8,310.8 604.0,310.8 604.2,310.7 604.5,310.7 604.8,310.7 605.0,310.7 605.2,310.6 605.5,310.6 605.8,310.6 606.0,310.6 606.2,310.5 606.5,310.5 606.8,310.5 607.0,310.4 607.2,310.4 607.5,310.4 607.8,310.4 608.0,310.4 608.2,310.4 608.5,310.4 608.8,310.4 609.0,310.3 609.2,310.3 609.5,310.2 609.8,310.0 610.0,309.9 610.2,309.8 610.5,309.7 610.8,309.6 611.0,309.6 611.2,309.6 611.5,309.7 611.8,309.8 612.0,309.9 612.2,310.1 612.5,310.2 612.8,310.3 613.0,310.4 613.2,310.5 613.5,310.5 613.8,310.5 614.0,310.5 614.2,310.5 614.5,310.5 614.8,310.5 615.0,310.5 615.2,310.5 615.5,310.4 615.8,310.4 616.0,310.4 616.2,310.4 616.5,310.3 616.8,310.3 617.0,310.3 617.2,310.3 617.5,310.2 617.8,310.2 618.0,310.2 618.2,310.1 618.5,310.1 618.8,310.1 619.0,310.1 619.2,310.0 619.5,310.0 619.8,310.0 620.0,310.0 620.2,309.9 620.5,309.9" fill="none" stroke="#c81010" stroke-width="1.3" stroke-linejoin="round"/>
<polyline points="107.0,308.4 107.2,308.4 107.5,308.4 107.8,308.4 108.0,308.4 108.2,308.4 108.5,308.4 108.8,308.4 109.0,308.4 109.2,308.4 109.5,308.4 109.8,308.4 110.0,308.4 110.2,308.4 110.5,308.3 110.8,308.3 111.0,308.3 111.2,308.3 111.5,308.3 111.8,308.3 112.0,308.3 112.2,308.3 112.5,308.3 112.8,308.3 113.0,308.3 113.2,308.3 113.5,308.3 113.8,308.3 114.0,308.3 114.2,308.3 114.5,308.3 114.8,308.3 115.0,308.3 115.2,308.3 115.5,308.3 115.8,308.3 116.0,308.3 116.2,308.3 116.5,308.3 116.8,308.3 117.0,308.2 117.2,308.2 117.5,308.2 117.8,308.2 118.0,308.2 118.2,308.2 118.5,308.2 118.8,308.2 119.0,308.2 119.2,308.2 119.5,308.2 119.8,308.2 120.0,308.2 120.2,308.2 120.5,308.2 120.8,308.2 121.0,308.2 121.2,308.2 121.5,308.2 121.8,308.2 122.0,308.2 122.2,308.2 122.5,308.2 122.8,308.1 123.0,308.1 123.2,308.1 123.5,308.1 123.8,308.1 124.0,308.1 124.2,308.1 124.5,308.1 124.8,308.1 125.0,308.1 125.2,308.1 125.5,308.1 125.8,308.1 126.0,308.1 126.2,308.1 126.5,308.1 126.8,308.1 127.0,308.1 127.2,308.1 127.5,308.1 127.8,308.1 128.0,308.0 128.2,308.0 128.5,308.0 128.8,308.0 129.0,308.0 129.2,308.0 129.5,308.0 129.8,308.0 130.0,308.0 130.2,308.0 130.5,308.0 130.8,308.0 131.0,308.0 131.2,308.0 131.5,308.0 131.8,308.0 132.0,308.0 132.2,308.0 132.5,308.0 132.8,308.0 133.0,308.0 133.2,308.0 133.5,308.0 133.8,308.0 134.0,308.0 134.2,308.0 134.5,308.0 134.8,308.0 135.0,308.0 135.2,308.0 135.5,308.0 135.8,308.0 136.0,307.9 136.2,307.9 136.5,307.9 136.8,307.9 137.0,307.9 137.2,307.9 137.5,307.9 137.8,307.9 138.0,307.9 138.2,307.9 138.5,307.9 138.8,307.9 139.0,307.9 139.2,307.9 139.5,307.9 139.8,307.8 140.0,307.8 140.2,307.8 140.5,307.8 140.8,307.8 141.0,307.8 141.2,307.8 141.5,307.8 141.8,307.7 142.0,307.7 142.2,307.7 142.5,307.7 142.8,307.7 143.0,307.6 143.2,307.6 143.5,307.6 143.8,307.5 144.0,307.5 144.2,307.5 144.5,307.4 144.8,307.4 145.0,307.3 145.2,307.3 145.5,307.2 145.8,307.1 146.0,307.0 146.2,306.7 146.5,306.4 146.8,306.0 147.0,305.7 147.2,305.2 147.5,304.8 147.8,304.3 148.0,303.6 148.2,302.3 148.5,298.6 148.8,294.3 149.0,288.7 149.2,280.9 149.5,270.0 149.8,262.0 150.0,251.2 150.2,240.5 150.5,235.0 150.8,235.8 151.0,243.3 151.2,255.0 151.5,265.9 151.8,273.9 152.0,283.6 152.2,291.8 152.5,297.9 152.8,303.0 153.0,303.3 153.2,302.2 153.5,300.9 153.8,299.5 154.0,298.1 154.2,296.6 154.5,295.0 154.8,292.4 155.0,289.7 155.2,286.9 155.5,284.1 155.8,281.1 156.0,278.1 156.2,279.4 156.5,280.3 156.8,280.2 157.0,278.6 157.2,275.1 157.5,270.4 157.8,264.6 158.0,259.4 158.2,257.8 158.5,260.5 158.8,267.7 159.0,276.3 159.2,275.4 159.5,271.5 159.8,263.0 160.0,252.0 160.2,233.2 160.5,203.2 160.8,166.2 161.0,123.6 161.2,81.6 161.5,57.5 161.8,59.9 162.0,89.1 162.2,132.2 162.5,173.5 162.8,217.1 163.0,256.7 163.2,285.4 163.5,290.5 163.8,285.4 164.0,275.4 164.2,264.6 164.5,253.9 164.8,244.5 165.0,241.2 165.2,245.4 165.5,255.8 165.8,267.8 166.0,280.0 166.2,289.8 166.5,296.8 166.8,301.5 167.0,304.9 167.2,305.8 167.5,306.3 167.8,306.6 168.0,306.7 168.2,306.8 168.5,306.8 168.8,306.7 169.0,306.6 169.2,306.5 169.5,306.4 169.8,306.2 170.0,306.0 170.2,306.1 170.5,306.2 170.8,306.3 171.0,306.4 171.2,306.4 171.5,306.4 171.8,306.3 172.0,306.0 172.2,305.6 172.5,304.9 172.8,304.1 173.0,303.3 173.2,302.7 173.5,302.6 173.8,303.1 174.0,303.9 174.2,304.7 174.5,305.3 174.8,305.8 175.0,306.0 175.2,306.2 175.5,306.4 175.8,306.5 176.0,306.5 176.2,306.6 176.5,306.6 176.8,306.6 177.0,306.7 177.2,306.7 177.5,306.7 177.8,306.8 178.0,306.8 178.2,306.8 178.5,306.8 178.8,306.8 179.0,306.8 179.2,306.9 179.5,306.9 179.8,306.9 180.0,306.9 180.2,306.9 180.5,306.9 180.8,306.9 181.0,306.9 181.2,306.9 181.5,307.0 181.8,307.0 182.0,307.0 182.2,307.0 182.5,307.0 182.8,307.0 183.0,307.0 183.2,307.0 183.5,307.0 183.8,307.0 184.0,307.0 184.2,307.0 184.5,307.0 184.8,307.0 185.0,307.0 185.2,306.9 185.5,306.9 185.8,306.8 186.0,306.8 186.2,306.7 186.5,306.7 186.8,306.6 187.0,306.5 187.2,306.5 187.5,306.4 187.8,306.3 188.0,306.2 188.2,306.2 188.5,306.1 188.8,306.0 189.0,305.9 189.2,305.8 189.5,305.8 189.8,305.7 190.0,305.5 190.2,305.4 190.5,305.3 190.8,305.2 191.0,305.0 191.2,304.9 191.5,304.7 191.8,304.5 192.0,304.2 192.2,303.9 192.5,303.5 192.8,302.9 193.0,302.2 193.2,300.9 193.5,298.4 193.8,294.4 194.0,288.4 194.2,280.7 194.5,272.2 194.8,265.1 195.0,262.3 195.2,265.4 195.5,272.9 195.8,281.7 196.0,289.7 196.2,295.9 196.5,300.1 196.8,302.6 197.0,303.7 197.2,303.5 197.5,301.5 197.8,297.7 198.0,291.9 198.2,284.1 198.5,274.9 198.8,266.2 199.0,260.6 199.2,261.1 199.5,267.1 199.8,275.8 200.0,284.4 200.2,291.4 200.5,296.4 200.8,299.4 201.0,300.8 201.2,301.0 201.5,300.0 201.8,297.6 202.0,293.9 202.2,288.9 202.5,283.5 202.8,278.9 203.0,277.2 203.2,279.2 203.5,284.0 203.8,289.6 204.0,294.8 204.2,298.7 204.5,301.2 204.8,302.4 205.0,302.5 205.2,302.0 205.5,301.0 205.8,300.2 206.0,300.0 206.2,300.7 206.5,302.0 206.8,303.6 207.0,305.0 207.2,306.2 207.5,307.0 207.8,307.6 208.0,308.0 208.2,308.2 208.5,308.3 208.8,308.4 209.0,308.5 209.2,308.5 209.5,308.6 209.8,308.6 210.0,308.6 210.2,308.7 210.5,308.7 210.8,308.7 211.0,308.7 211.2,308.7 211.5,308.7 211.8,308.7 212.0,308.7 212.2,308.7 212.5,308.7 212.8,308.7 213.0,308.7 213.2,308.6 213.5,308.6 213.8,308.5 214.0,308.4 214.2,308.2 214.5,308.0 214.8,307.7 215.0,307.2 215.2,306.4 215.5,305.2 215.8,303.5 216.0,301.4 216.2,298.9 216.5,296.8 216.8,295.6 217.0,296.1 217.2,297.8 217.5,300.2 217.8,302.4 218.0,304.2 218.2,305.5 218.5,306.3 218.8,306.8 219.0,307.0 219.2,307.1 219.5,307.0 219.8,306.9 220.0,306.5 220.2,305.9 220.5,304.9 220.8,303.2 221.0,300.7 221.2,297.5 221.5,293.8 221.8,290.4 222.0,288.2 222.2,288.5 222.5,291.0 222.8,294.6 223.0,298.3 223.2,301.3 223.5,303.5 223.8,304.9 224.0,305.5 224.2,305.3 224.5,304.2 224.8,302.0 225.0,298.4 225.2,293.0 225.5,285.8 225.8,277.4 226.0,269.1 226.2,263.4 226.5,262.8 226.8,267.7 227.0,275.7 227.2,284.3 227.5,291.9 227.8,297.7 228.0,301.7 228.2,304.3 228.5,305.7 228.8,306.5 229.0,306.5 229.2,306.2 229.5,305.6 229.8,305.0 230.0,304.4 230.2,304.0 230.5,304.3 230.8,305.1 231.0,306.0 231.2,306.9 231.5,307.7 231.8,308.3 232.0,308.7 232.2,309.0 232.5,309.3 232.8,309.4 233.0,309.4 233.2,309.3 233.5,309.2 233.8,309.1 234.0,309.0 234.2,308.9 234.5,308.7 234.8,308.5 235.0,308.0 235.2,307.4 235.5,306.4 235.8,305.0 236.0,303.1 236.2,300.9 236.5,298.9 236.8,297.4 237.0,297.2 237.2,298.2 237.5,300.0 237.8,301.9 238.0,303.6 238.2,304.9 238.5,305.7 238.8,306.2 239.0,306.4 239.2,306.5 239.5,306.4 239.8,306.6 240.0,306.7 240.2,306.7 240.5,306.7 240.8,306.4 241.0,306.0 241.2,305.2 241.5,303.9 241.8,302.2 242.0,300.1 242.2,297.9 242.5,296.4 242.8,296.0 243.0,296.9 243.2,298.8 243.5,301.0 243.8,303.0 244.0,304.6 244.2,305.7 244.5,306.4 244.8,306.8 245.0,307.0 245.2,307.0 245.5,307.0 245.8,307.0 246.0,306.9 246.2,306.9 246.5,306.8 246.8,306.7 247.0,306.6 247.2,306.4 247.5,306.3 247.8,306.2 248.0,306.0 248.2,306.0 248.5,306.1 248.8,306.1 249.0,306.0 249.2,305.9 249.5,305.6 249.8,305.1 250.0,304.3 250.2,302.8 250.5,300.5 250.8,297.3 251.0,293.3 251.2,288.9 251.5,285.2 251.8,283.4 252.0,283.4 252.2,285.5 252.5,288.8 252.8,292.0 253.0,294.5 253.2,296.1 253.5,296.8 253.8,296.8 254.0,296.3 254.2,296.4 254.5,296.8 254.8,297.0 255.0,297.0 255.2,296.8 255.5,296.2 255.8,294.8 256.0,292.1 256.2,287.3 256.5,279.4 256.8,267.5 257.0,251.3 257.2,231.6 257.5,211.2 257.8,194.8 258.0,188.5 258.2,196.4 258.5,214.3 258.8,235.9 259.0,256.1 259.2,272.1 259.5,282.6 259.8,284.2 260.0,281.6 260.2,276.4 260.5,270.8 260.8,267.3 261.0,268.3 261.2,272.6 261.5,278.4 261.8,284.0 262.0,288.5 262.2,291.5 262.5,292.7 262.8,292.3 263.0,291.6 263.2,289.7 263.5,286.5 263.8,282.5 264.0,278.6 264.2,276.4 264.5,276.8 264.8,279.6 265.0,284.4 265.2,289.6 265.5,294.4 265.8,298.1 266.0,300.6 266.2,302.1 266.5,302.9 266.8,303.2 267.0,303.2 267.2,303.1 267.5,302.7 267.8,302.9 268.0,302.9 268.2,302.4 268.5,301.5 268.8,300.1 269.0,298.2 269.2,296.2 269.5,294.6 269.8,293.9 270.0,294.2 270.2,295.7 270.5,297.7 270.8,299.8 271.0,301.6 271.2,302.8 271.5,303.6 271.8,304.0 272.0,304.1 272.2,304.0 272.5,303.7 272.8,303.3 273.0,302.9 273.2,302.5 273.5,302.1 273.8,301.6 274.0,301.2 274.2,300.7 274.5,300.2 274.8,300.3 275.0,300.8 275.2,301.2 275.5,301.6 275.8,301.8 276.0,301.8 276.2,301.4 276.5,300.4 276.8,298.8 277.0,296.4 277.2,293.5 277.5,290.5 277.8,288.2 278.0,287.7 278.2,287.5 278.5,289.0 278.8,291.3 279.0,293.5 279.2,295.2 279.5,296.1 279.8,296.3 280.0,296.0 280.2,298.0 280.5,299.8 280.8,301.4 281.0,302.9 281.2,304.3 281.5,305.8 281.8,307.2 282.0,308.0 282.2,307.9 282.5,307.7 282.8,307.6 283.0,307.3 283.2,307.0 283.5,306.4 283.8,305.5 284.0,304.0 284.2,301.7 284.5,298.2 284.8,293.4 285.0,287.3 285.2,280.5 285.5,274.2 285.8,270.0 286.0,269.6 286.2,273.2 286.5,279.3 286.8,286.2 287.0,292.5 287.2,297.7 287.5,301.5 287.8,304.1 288.0,305.8 288.2,306.9 288.5,307.6 288.8,308.0 289.0,308.4 289.2,308.7 289.5,308.7 289.8,308.3 290.0,308.0 290.2,307.6 290.5,307.2 290.8,306.8 291.0,306.4 291.2,305.9 291.5,305.5 291.8,305.0 292.0,304.6 292.2,304.1 292.5,303.5 292.8,302.9 293.0,302.2 293.2,301.5 293.5,300.9 293.8,300.2 294.0,299.5 294.2,298.7 294.5,297.9 294.8,297.0 295.0,296.0 295.2,296.4 295.5,296.5 295.8,295.9 296.0,294.6 296.2,292.4 296.5,289.4 296.8,286.0 297.0,282.9 297.2,281.1 297.5,281.5 297.8,284.0 298.0,288.1 298.2,292.6 298.5,296.6 298.8,299.6 299.0,300.7 299.2,300.2 299.5,298.0 299.8,294.2 300.0,288.8 300.2,282.4 300.5,275.8 300.8,270.6 301.0,268.5 301.2,270.6 301.5,275.8 301.8,282.4 302.0,288.9 302.2,294.6 302.5,299.0 302.8,302.1 303.0,304.2 303.2,305.5 303.5,306.3 303.8,306.9 304.0,307.2 304.2,307.5 304.5,307.6 304.8,307.8 305.0,307.9 305.2,307.9 305.5,308.0 305.8,308.0 306.0,307.9 306.2,307.7 306.5,307.4 306.8,307.0 307.0,306.4 307.2,305.5 307.5,304.0 307.8,302.0 308.0,299.3 308.2,296.0 308.5,292.6 308.8,289.5 309.0,287.6 309.2,287.6 309.5,289.4 309.8,292.0 310.0,294.7 310.2,296.5 310.5,297.1 310.8,296.3 311.0,293.9 311.2,290.1 311.5,285.5 311.8,280.9 312.0,277.5 312.2,276.6 312.5,278.7 312.8,282.8 313.0,287.8 313.2,292.6 313.5,296.5 313.8,299.3 314.0,300.9 314.2,301.4 314.5,300.7 314.8,298.8 315.0,295.9 315.2,292.0 315.5,287.6 315.8,283.3 316.0,280.1 316.2,279.0 316.5,279.7 316.8,282.1 317.0,285.3 317.2,288.2 317.5,290.3 317.8,291.3 318.0,292.4 318.2,292.5 318.5,291.1 318.8,288.3 319.0,284.2 319.2,279.2 319.5,274.1 319.8,270.3 320.0,269.2 320.2,271.4 320.5,276.4 320.8,282.5 321.0,288.6 321.2,293.7 321.5,297.3 321.8,299.2 322.0,298.1 322.2,294.4 322.5,287.7 322.8,277.7 323.0,263.9 323.2,246.7 323.5,227.6 323.8,209.3 324.0,196.0 324.2,191.9 324.5,197.8 324.8,211.5 325.0,228.3 325.2,244.6 325.5,258.0 325.8,267.6 326.0,273.2 326.2,275.1 326.5,273.9 326.8,274.3 327.0,272.9 327.2,270.6 327.5,268.5 327.8,268.1 328.0,269.3 328.2,271.7 328.5,276.1 328.8,281.3 329.0,286.1 329.2,290.0 329.5,292.8 329.8,294.4 330.0,295.1 330.2,295.1 330.5,294.4 330.8,294.3 331.0,294.2 331.2,293.2 331.5,291.2 331.8,288.0 332.0,283.7 332.2,278.7 332.5,273.7 332.8,270.0 333.0,269.2 333.2,269.2 333.5,272.0 333.8,276.1 334.0,280.2 334.2,283.4 334.5,285.4 334.8,285.8 335.0,286.0 335.2,286.8 335.5,286.0 335.8,283.9 336.0,280.6 336.2,276.9 336.5,273.5 336.8,272.0 337.0,272.8 337.2,275.6 337.5,280.5 337.8,286.1 338.0,291.4 338.2,296.0 338.5,299.4 338.8,301.8 339.0,303.4 339.2,304.5 339.5,305.2 339.8,305.7 340.0,306.0 340.2,306.1 340.5,306.2 340.8,306.1 341.0,305.9 341.2,305.4 341.5,304.5 341.8,303.1 342.0,300.8 342.2,297.7 342.5,293.5 342.8,288.7 343.0,283.6 343.2,279.2 343.5,276.7 343.8,276.4 344.0,278.4 344.2,282.1 344.5,286.3 344.8,290.1 345.0,293.1 345.2,295.1 345.5,296.2 345.8,296.6 346.0,296.5 346.2,296.0 346.5,295.4 346.8,294.5 347.0,293.6 347.2,292.7 347.5,293.8 347.8,295.4 348.0,297.0 348.2,298.5 348.5,300.0 348.8,301.4 349.0,302.8 349.2,304.0 349.5,305.0 349.8,305.9 350.0,305.4 350.2,304.5 350.5,303.6 350.8,303.0 351.0,302.7 351.2,302.8 351.5,303.3 351.8,303.9 352.0,304.4 352.2,304.7 352.5,304.7 352.8,304.4 353.0,304.2 353.2,304.0 353.5,304.2 353.8,304.6 354.0,305.2 354.2,305.6 354.5,305.8 354.8,305.8 355.0,305.3 355.2,304.2 355.5,302.3 355.8,299.4 356.0,295.5 356.2,290.6 356.5,284.9 356.8,279.1 357.0,274.4 357.2,271.9 357.5,273.4 357.8,277.6 358.0,283.1 358.2,288.5 358.5,292.1 358.8,293.0 359.0,292.3 359.2,290.3 359.5,287.5 359.8,285.1 360.0,283.9 360.2,284.2 360.5,286.0 360.8,288.5 361.0,291.1 361.2,293.2 361.5,294.7 361.8,295.5 362.0,295.6 362.2,295.5 362.5,296.4 362.8,296.9 363.0,296.8 363.2,296.1 363.5,294.3 363.8,291.4 364.0,286.9 364.2,280.9 364.5,273.7 364.8,266.0 365.0,259.1 365.2,254.9 365.5,255.0 365.8,259.5 366.0,266.9 366.2,275.2 366.5,283.0 366.8,289.2 367.0,292.8 367.2,293.7 367.5,293.3 367.8,292.2 368.0,291.4 368.2,291.4 368.5,292.3 368.8,293.9 369.0,295.6 369.2,297.1 369.5,298.3 369.8,299.0 370.0,299.2 370.2,299.1 370.5,298.7 370.8,299.7 371.0,300.6 371.2,301.5 371.5,302.3 371.8,303.0 372.0,303.7 372.2,304.4 372.5,305.1 372.8,305.8 373.0,306.5 373.2,307.2 373.5,307.8 373.8,308.4 374.0,308.8 374.2,308.8 374.5,308.8 374.8,308.7 375.0,308.5 375.2,308.1 375.5,307.5 375.8,306.8 376.0,305.8 376.2,304.7 376.5,303.7 376.8,303.0 377.0,302.7 377.2,302.6 377.5,303.1 377.8,303.8 378.0,304.5 378.2,305.1 378.5,305.4 378.8,305.7 379.0,306.0 379.2,305.9 379.5,305.6 379.8,305.1 380.0,304.5 380.2,304.0 380.5,303.9 380.8,304.1 381.0,304.8 381.2,305.7 381.5,306.7 381.8,307.7 382.0,308.5 382.2,309.2 382.5,309.7 382.8,310.1 383.0,310.3 383.2,310.5 383.5,310.7 383.8,310.8 384.0,310.8 384.2,310.8 384.5,310.8 384.8,310.9 385.0,310.9 385.2,310.9 385.5,310.9 385.8,310.8 386.0,310.8 386.2,310.8 386.5,310.8 386.8,310.8 387.0,310.8 387.2,310.7 387.5,310.7 387.8,310.6 388.0,310.6 388.2,310.5 388.5,310.3 388.8,310.1 389.0,309.7 389.2,309.3 389.5,308.8 389.8,308.2 390.0,307.6 390.2,307.0 390.5,306.7 390.8,306.8 391.0,307.1 391.2,307.6 391.5,308.2 391.8,308.8 392.0,309.3 392.2,309.7 392.5,309.9 392.8,310.1 393.0,310.3 393.2,310.4 393.5,310.4 393.8,310.5 394.0,310.5 394.2,310.5 394.5,310.5 394.8,310.5 395.0,310.5 395.2,310.5 395.5,310.5 395.8,310.5 396.0,310.5 396.2,310.5 396.5,310.4 396.8,310.4 397.0,310.3 397.2,310.2 397.5,310.1 397.8,309.8 398.0,309.4 398.2,308.9 398.5,308.2 398.8,307.4 399.0,306.5 399.2,305.6 399.5,304.9 399.8,304.5 400.0,304.7 400.2,305.4 400.5,306.3 400.8,307.2 401.0,308.2 401.2,309.0 401.5,309.6 401.8,310.1 402.0,310.4 402.2,310.6 402.5,310.7 402.8,310.7 403.0,310.8 403.2,310.8 403.5,310.8 403.8,310.7 404.0,310.7 404.2,310.6 404.5,310.5 404.8,310.2 405.0,309.9 405.2,309.3 405.5,308.5 405.8,307.4 406.0,305.9 406.2,303.9 406.5,301.6 406.8,299.1 407.0,296.8 407.2,295.0 407.5,294.3 407.8,295.0 408.0,296.8 408.2,299.2 408.5,301.7 408.8,304.0 409.0,306.0 409.2,307.5 409.5,308.6 409.8,309.4 410.0,310.0 410.2,310.2 410.5,310.3 410.8,310.4 411.0,310.4 411.2,310.3 411.5,310.2 411.8,310.0 412.0,309.7 412.2,309.4 412.5,309.0 412.8,308.7 413.0,308.5 413.2,308.4 413.5,308.5 413.8,308.8 414.0,309.1 414.2,309.5 414.5,309.8 414.8,310.0 415.0,310.2 415.2,310.4 415.5,310.5 415.8,310.6 416.0,310.6 416.2,310.6 416.5,310.7 416.8,310.7 417.0,310.7 417.2,310.7 417.5,310.7 417.8,310.8 418.0,310.8 418.2,310.8 418.5,310.8 418.8,310.8 419.0,310.8 419.2,310.7 419.5,310.7 419.8,310.6 420.0,310.5 420.2,310.3 420.5,310.1 420.8,309.8 421.0,309.5 421.2,309.2 421.5,309.0 421.8,308.9 422.0,308.9 422.2,309.1 422.5,309.4 422.8,309.6 423.0,309.9 423.2,310.1 423.5,310.3 423.8,310.4 424.0,310.5 424.2,310.6 424.5,310.6 424.8,310.6 425.0,310.7 425.2,310.7 425.5,310.7 425.8,310.7 426.0,310.8 426.2,310.8 426.5,310.8 426.8,310.8 427.0,310.8 427.2,310.8 427.5,310.8 427.8,310.8 428.0,310.8 428.2,310.8 428.5,310.8 428.8,310.8 429.0,310.8 429.2,310.8 429.5,310.8 429.8,310.8 430.0,310.8 430.2,310.8 430.5,310.7 430.8,310.7 431.0,310.6 431.2,310.5 431.5,310.3 431.8,310.0 432.0,309.6 432.2,309.0 432.5,308.1 432.8,307.0 433.0,305.5 433.2,303.8 433.5,301.9 433.8,300.1 434.0,298.7 434.2,298.0 434.5,298.3 434.8,299.3 435.0,300.9 435.2,302.7 435.5,304.4 435.8,305.9 436.0,307.1 436.2,308.0 436.5,308.6 436.8,308.9 437.0,309.0 437.2,309.0 437.5,308.8 437.8,308.7 438.0,308.5 438.2,308.3 438.5,308.1 438.8,307.9 439.0,307.6 439.2,307.3 439.5,307.0 439.8,307.2 440.0,307.3 440.2,307.3 440.5,307.2 440.8,307.0 441.0,306.8 441.2,306.5 441.5,306.3 441.8,306.4 442.0,306.5 442.2,306.6 442.5,306.9 442.8,307.3 443.0,307.7 443.2,308.0 443.5,308.3 443.8,308.5 444.0,308.8 444.2,308.9 444.5,309.0 444.8,309.0 445.0,308.8 445.2,308.5 445.5,308.2 445.8,307.8 446.0,307.4 446.2,307.1 446.5,307.0 446.8,307.0 447.0,307.2 447.2,307.6 447.5,308.0 447.8,308.4 448.0,308.8 448.2,309.0 448.5,309.2 448.8,309.3 449.0,309.4 449.2,309.3 449.5,309.3 449.8,309.3 450.0,309.3 450.2,309.2 450.5,308.9 450.8,308.6 451.0,308.0 451.2,307.2 451.5,306.3 451.8,305.2 452.0,304.1 452.2,303.1 452.5,302.4 452.8,302.3 453.0,302.7 453.2,303.5 453.5,304.6 453.8,305.8 454.0,306.9 454.2,307.8 454.5,308.5 454.8,309.0 455.0,309.3 455.2,309.6 455.5,309.7 455.8,309.8 456.0,309.8 456.2,309.8 456.5,309.8 456.8,309.9 457.0,310.0 457.2,310.0 457.5,310.0 457.8,310.1 458.0,310.1 458.2,310.2 458.5,310.2 458.8,310.2 459.0,310.3 459.2,310.3 459.5,310.3 459.8,310.3 460.0,310.3 460.2,310.2 460.5,310.2 460.8,310.1 461.0,310.0 461.2,309.8 461.5,309.5 461.8,309.0 462.0,308.4 462.2,307.5 462.5,306.5 462.8,305.4 463.0,304.2 463.2,303.2 463.5,302.5 463.8,302.3 464.0,302.8 464.2,303.7 464.5,304.8 464.8,306.0 465.0,307.2 465.2,308.2 465.5,309.0 465.8,309.6 466.0,310.0 466.2,310.3 466.5,310.5 466.8,310.7 467.0,310.6 467.2,310.4 467.5,310.3 467.8,310.1 468.0,309.9 468.2,309.7 468.5,309.5 468.8,309.2 469.0,309.0 469.2,308.8 469.5,308.6 469.8,308.4 470.0,308.1 470.2,307.9 470.5,307.7 470.8,307.4 471.0,307.2 471.2,306.9 471.5,306.6 471.8,306.2 472.0,306.1 472.2,306.2 472.5,306.3 472.8,306.2 473.0,306.0 473.2,305.7 473.5,305.3 473.8,305.0 474.0,304.9 474.2,305.0 474.5,305.2 474.8,305.7 475.0,306.4 475.2,307.2 475.5,308.0 475.8,308.6 476.0,309.2 476.2,309.6 476.5,309.9 476.8,310.1 477.0,310.3 477.2,310.3 477.5,310.3 477.8,310.3 478.0,310.1 478.2,310.0 478.5,309.7 478.8,309.4 479.0,309.1 479.2,308.7 479.5,308.4 479.8,308.1 480.0,308.0 480.2,308.1 480.5,308.3 480.8,308.6 481.0,308.9 481.2,309.1 481.5,309.3 481.8,309.3 482.0,309.2 482.2,309.0 482.5,308.8 482.8,308.6 483.0,308.4 483.2,308.4 483.5,308.5 483.8,308.7 484.0,309.0 484.2,309.3 484.5,309.6 484.8,309.8 485.0,310.0 485.2,310.1 485.5,310.2 485.8,310.3 486.0,310.3 486.2,310.3 486.5,310.3 486.8,310.3 487.0,310.3 487.2,310.3 487.5,310.3 487.8,310.3 488.0,310.2 488.2,310.1 488.5,309.9 488.8,309.6 489.0,309.3 489.2,308.8 489.5,308.3 489.8,307.7 490.0,307.2 490.2,306.7 490.5,306.5 490.8,306.6 491.0,306.9 491.2,307.4 491.5,308.0 491.8,308.6 492.0,309.2 492.2,309.6 492.5,310.0 492.8,310.3 493.0,310.5 493.2,310.7 493.5,310.8 493.8,310.8 494.0,310.9 494.2,310.9 494.5,310.9 494.8,310.9 495.0,310.9 495.2,310.9 495.5,310.9 495.8,310.9 496.0,310.9 496.2,310.9 496.5,310.9 496.8,310.9 497.0,310.9 497.2,310.9 497.5,310.9 497.8,310.9 498.0,310.9 498.2,310.9 498.5,310.9 498.8,310.9 499.0,310.9 499.2,310.9 499.5,310.8 499.8,310.8 500.0,310.8 500.2,310.8 500.5,310.8 500.8,310.8 501.0,310.8 501.2,310.8 501.5,310.7 501.8,310.7 502.0,310.7 502.2,310.7 502.5,310.7 502.8,310.6 503.0,310.6 503.2,310.5 503.5,310.4 503.8,310.2 504.0,310.0 504.2,309.6 504.5,309.3 504.8,308.8 505.0,308.4 505.2,308.0 505.5,307.7 505.8,307.5 506.0,307.5 506.2,307.7 506.5,308.0 506.8,308.3 507.0,308.7 507.2,309.0 507.5,309.2 507.8,309.3 508.0,309.5 508.2,309.6 508.5,309.7 508.8,309.6 509.0,309.5 509.2,309.3 509.5,309.0 509.8,308.8 510.0,308.6 510.2,308.4 510.5,308.4 510.8,308.5 511.0,308.7 511.2,308.9 511.5,309.2 511.8,309.5 512.0,309.8 512.2,310.0 512.5,310.2 512.8,310.3 513.0,310.4 513.2,310.4 513.5,310.4 513.8,310.4 514.0,310.4 514.2,310.4 514.5,310.4 514.8,310.4 515.0,310.4 515.2,310.4 515.5,310.4 515.8,310.4 516.0,310.4 516.2,310.4 516.5,310.3 516.8,310.2 517.0,310.0 517.2,309.8 517.5,309.6 517.8,309.4 518.0,309.2 518.2,309.0 518.5,309.0 518.8,309.1 519.0,309.2 519.2,309.4 519.5,309.7 519.8,309.9 520.0,310.1 520.2,310.3 520.5,310.4 520.8,310.5 521.0,310.6 521.2,310.6 521.5,310.7 521.8,310.7 522.0,310.7 522.2,310.7 522.5,310.7 522.8,310.7 523.0,310.7 523.2,310.7 523.5,310.6 523.8,310.6 524.0,310.6 524.2,310.6 524.5,310.6 524.8,310.5 525.0,310.5 525.2,310.4 525.5,310.2 525.8,310.0 526.0,309.7 526.2,309.4 526.5,308.9 526.8,308.4 527.0,307.8 527.2,307.2 527.5,306.7 527.8,306.4 528.0,306.4 528.2,306.7 528.5,307.2 528.8,307.8 529.0,308.4 529.2,309.0 529.5,309.5 529.8,310.0 530.0,310.3 530.2,310.6 530.5,310.8 530.8,310.9 531.0,311.0 531.2,311.1 531.5,311.2 531.8,311.2 532.0,311.2 532.2,311.2 532.5,311.2 532.8,311.3 533.0,311.3 533.2,311.3 533.5,311.3 533.8,311.3 534.0,311.3 534.2,311.3 534.5,311.3 534.8,311.3 535.0,311.3 535.2,311.3 535.5,311.2 535.8,311.2 536.0,311.2 536.2,311.2 536.5,311.2 536.8,311.2 537.0,311.2 537.2,311.2 537.5,311.2 537.8,311.2 538.0,311.2 538.2,311.2 538.5,311.2 538.8,311.2 539.0,311.2 539.2,311.2 539.5,311.2 539.8,311.2 540.0,311.3 540.2,311.3 540.5,311.3 540.8,311.3 541.0,311.3 541.2,311.3 541.5,311.3 541.8,311.3 542.0,311.3 542.2,311.3 542.5,311.3 542.8,311.2 543.0,311.2 543.2,311.2 543.5,311.2 543.8,311.2 544.0,311.2 544.2,311.2 544.5,311.1 544.8,311.1 545.0,311.1 545.2,311.1 545.5,311.1 545.8,311.1 546.0,311.1 546.2,311.1 546.5,311.0 546.8,311.0 547.0,311.0 547.2,311.0 547.5,311.0 547.8,311.0 548.0,311.0 548.2,310.9 548.5,310.9 548.8,310.9 549.0,310.9 549.2,310.9 549.5,310.8 549.8,310.8 550.0,310.8 550.2,310.7 550.5,310.6 550.8,310.5 551.0,310.4 551.2,310.3 551.5,310.1 551.8,310.0 552.0,309.9 552.2,309.7 552.5,309.6 552.8,309.6 553.0,309.6 553.2,309.7 553.5,309.9 553.8,310.0 554.0,310.2 554.2,310.4 554.5,310.5 554.8,310.6 555.0,310.7 555.2,310.8 555.5,310.8 555.8,310.9 556.0,310.9 556.2,310.9 556.5,310.9 556.8,310.9 557.0,310.9 557.2,310.9 557.5,310.9 557.8,310.9 558.0,310.9 558.2,310.9 558.5,310.9 558.8,310.9 559.0,310.9 559.2,310.9 559.5,310.8 559.8,310.8 560.0,310.7 560.2,310.6 560.5,310.5 560.8,310.3 561.0,310.1 561.2,309.8 561.5,309.5 561.8,309.2 562.0,308.8 562.2,308.5 562.5,308.4 562.8,308.3 563.0,308.4 563.2,308.7 563.5,309.0 563.8,309.4 564.0,309.7 564.2,310.1 564.5,310.3 564.8,310.6 565.0,310.7 565.2,310.9 565.5,311.0 565.8,311.1 566.0,311.1 566.2,311.2 566.5,311.2 566.8,311.2 567.0,311.3 567.2,311.3 567.5,311.3 567.8,311.3 568.0,311.2 568.2,311.1 568.5,311.0 568.8,310.9 569.0,310.8 569.2,310.7 569.5,310.6 569.8,310.5 570.0,310.4 570.2,310.3 570.5,310.2 570.8,310.1 571.0,310.0 571.2,309.9 571.5,309.8 571.8,309.7 572.0,309.6 572.2,309.7 572.5,309.7 572.8,309.8 573.0,309.8 573.2,309.8 573.5,309.8 573.8,309.7 574.0,309.6 574.2,309.5 574.5,309.3 574.8,309.0 575.0,308.7 575.2,308.4 575.5,308.1 575.8,307.9 576.0,307.8 576.2,307.9 576.5,308.1 576.8,308.5 577.0,308.9 577.2,309.3 577.5,309.8 577.8,310.1 578.0,310.5 578.2,310.7 578.5,310.9 578.8,311.1 579.0,311.3 579.2,311.3 579.5,311.4 579.8,311.4 580.0,311.4 580.2,311.4 580.5,311.4 580.8,311.4 581.0,311.4 581.2,311.4 581.5,311.4 581.8,311.3 582.0,311.3 582.2,311.3 582.5,311.3 582.8,311.3 583.0,311.3 583.2,311.3 583.5,311.3 583.8,311.3 584.0,311.2 584.2,311.2 584.5,311.2 584.8,311.2 585.0,311.2 585.2,311.2 585.5,311.2 585.8,311.1 586.0,311.1 586.2,311.1 586.5,311.1 586.8,311.1 587.0,311.1 587.2,311.0 587.5,311.0 587.8,311.0 588.0,311.0 588.2,311.0 588.5,311.0 588.8,310.9 589.0,310.9 589.2,310.9 589.5,310.9 589.8,310.9 590.0,310.8 590.2,310.8 590.5,310.8 590.8,310.7 591.0,310.7 591.2,310.6 591.5,310.5 591.8,310.5 592.0,310.4 592.2,310.2 592.5,310.1 592.8,309.9 593.0,309.7 593.2,309.6 593.5,309.5 593.8,309.5 594.0,309.6 594.2,309.7 594.5,309.9 594.8,310.1 595.0,310.3 595.2,310.5 595.5,310.7 595.8,310.8 596.0,310.9 596.2,311.0 596.5,311.1 596.8,311.2 597.0,311.2 597.2,311.3 597.5,311.3 597.8,311.3 598.0,311.3 598.2,311.3 598.5,311.2 598.8,311.2 599.0,311.2 599.2,311.2 599.5,311.2 599.8,311.1 600.0,311.1 600.2,311.1 600.5,311.1 600.8,311.0 601.0,311.0 601.2,311.0 601.5,311.0 601.8,311.0 602.0,310.9 602.2,310.9 602.5,310.9 602.8,310.9 603.0,310.8 603.2,310.8 603.5,310.8 603.8,310.8 604.0,310.8 604.2,310.7 604.5,310.7 604.8,310.7 605.0,310.7 605.2,310.6 605.5,310.6 605.8,310.6 606.0,310.6 606.2,310.5 606.5,310.5 606.8,310.5 607.0,310.4 607.2,310.4 607.5,310.4 607.8,310.4 608.0,310.4 608.2,310.4 608.5,310.4 608.8,310.4 609.0,310.3 609.2,310.3 609.5,310.2 609.8,310.0 610.0,309.9 610.2,309.8 610.5,309.7 610.8,309.6 611.0,309.6 611.2,309.6 611.5,309.7 611.8,309.8 612.0,309.9 612.2,310.1 612.5,310.2 612.8,310.3 613.0,310.4 613.2,310.5 613.5,310.5 613.8,310.5 614.0,310.5 614.2,310.5 614.5,310.5 614.8,310.5 615.0,310.5 615.2,310.5 615.5,310.4 615.8,310.4 616.0,310.4 616.2,310.4 616.5,310.3 616.8,310.3 617.0,310.3 617.2,310.3 617.5,310.2 617.8,310.2 618.0,310.2 618.2,310.1 618.5,310.1 618.8,310.1 619.0,310.1 619.2,310.0 619.5,310.0 619.8,310.0 620.0,310.0 620.2,309.9 620.5,309.9" fill="none" stroke="#2404d0" stroke-width="1.5" stroke-linejoin="round" stroke-opacity="0.93"/>
<polyline points="107.0,386.6 107.5,387.0 108.0,386.6 108.5,386.9 109.0,386.6 109.5,386.5 110.0,386.9 110.5,386.5 111.0,386.9 111.5,386.6 112.0,387.0 112.5,386.7 113.0,386.6 113.5,386.9 114.0,386.6 114.5,387.0 115.0,386.7 115.5,386.6 116.0,386.9 116.5,386.7 117.0,387.1 117.5,386.7 118.0,387.0 118.5,386.6 119.0,386.9 119.5,386.6 120.0,387.1 120.5,386.5 121.0,387.1 121.5,386.5 122.0,387.0 122.5,386.7 123.0,386.9 123.5,386.6 124.0,387.0 124.5,386.7 125.0,386.9 125.5,386.5 126.0,386.5 126.5,386.9 127.0,386.9 127.5,386.5 128.0,386.9 128.5,386.7 129.0,386.6 129.5,386.7 130.0,387.4 130.5,386.6 131.0,387.0 131.5,387.0 132.0,386.7 132.5,387.1 133.0,386.9 133.5,386.5 134.0,386.7 134.5,387.1 135.0,386.5 135.5,387.1 136.0,387.0 136.5,387.0 137.0,386.6 137.5,387.0 138.0,387.1 138.5,386.6 139.0,386.9 139.5,386.6 140.0,387.1 140.5,386.5 141.0,387.0 141.5,386.7 142.0,387.0 142.5,386.5 143.0,387.1 143.5,387.0 144.0,386.7 144.5,387.1 145.0,387.0 145.5,386.6 146.0,387.1 146.5,385.6 147.0,387.6 147.5,387.9 148.0,385.1 148.5,388.1 149.0,384.0 149.5,387.9 150.0,384.4 150.5,389.9 151.0,384.8 151.5,388.8 152.0,385.8 152.5,387.3 153.0,386.3 153.5,386.5 154.0,387.2 154.5,385.8 155.0,387.8 155.5,387.5 156.0,384.3 156.5,390.9 157.0,393.7 157.5,378.7 158.0,376.0 158.5,395.1 159.0,379.0 159.5,390.4 160.0,382.0 160.5,390.6 161.0,377.9 161.5,380.0 162.0,391.7 162.5,379.4 163.0,393.5 163.5,383.7 164.0,385.2 164.5,384.5 165.0,389.2 165.5,385.8 166.0,388.3 166.5,385.6 167.0,387.6 167.5,387.9 168.0,386.4 168.5,387.8 169.0,386.3 169.5,386.4 170.0,387.2 170.5,386.3 171.0,387.1 171.5,386.2 172.0,387.4 172.5,386.3 173.0,387.1 173.5,386.3 174.0,387.4 174.5,386.2 175.0,387.1 175.5,386.2 176.0,387.1 176.5,386.6 177.0,387.2 177.5,386.4 178.0,387.9 178.5,387.0 179.0,386.5 179.5,386.9 180.0,386.5 180.5,387.0 181.0,386.4 181.5,386.7 182.0,386.6 182.5,387.1 183.0,386.5 183.5,387.9 184.0,386.5 184.5,387.0 185.0,386.4 185.5,387.2 186.0,386.5 186.5,386.5 187.0,386.5 187.5,387.0 188.0,387.1 188.5,386.6 189.0,387.0 189.5,386.6 190.0,387.0 190.5,386.6 191.0,387.1 191.5,387.1 192.0,386.4 192.5,387.8 193.0,386.7 193.5,387.2 194.0,387.9 194.5,388.3 195.0,384.9 195.5,388.6 196.0,387.7 196.5,385.4 197.0,388.8 197.5,385.3 198.0,388.4 198.5,385.2 199.0,387.7 199.5,385.4 200.0,385.7 200.5,385.9 201.0,386.4 201.5,386.5 202.0,386.3 202.5,386.3 203.0,387.2 203.5,386.6 204.0,387.2 204.5,386.5 205.0,387.3 205.5,387.4 206.0,386.6 206.5,387.2 207.0,386.3 207.5,387.2 208.0,386.5 208.5,386.3 209.0,387.1 209.5,386.6 210.0,387.0 210.5,386.4 211.0,387.1 211.5,386.3 212.0,387.3 212.5,386.5 213.0,387.3 213.5,386.2 214.0,387.3 214.5,386.5 215.0,386.6 215.5,387.2 216.0,386.3 216.5,387.3 217.0,386.3 217.5,387.0 218.0,386.5 218.5,387.2 219.0,387.4 219.5,386.5 220.0,387.4 220.5,386.5 221.0,387.2 221.5,386.4 222.0,387.4 222.5,386.3 223.0,387.0 223.5,386.4 224.0,387.3 224.5,386.3 225.0,387.3 225.5,386.3 226.0,387.3 226.5,386.3 227.0,387.2 227.5,387.3 228.0,386.3 228.5,386.4 229.0,387.4 229.5,386.2 230.0,387.2 230.5,386.4 231.0,387.3 231.5,386.5 232.0,387.1 232.5,386.5 233.0,387.4 233.5,386.4 234.0,386.6 234.5,387.1 235.0,386.3 235.5,387.1 236.0,386.5 236.5,387.2 237.0,387.4 237.5,386.2 238.0,387.0 238.5,386.4 239.0,387.1 239.5,386.5 240.0,387.9 240.5,386.3 241.0,387.2 241.5,387.2 242.0,387.1 242.5,386.2 243.0,388.6 243.5,386.5 244.0,387.2 244.5,387.3 245.0,386.2 245.5,386.5 246.0,387.3 246.5,386.2 247.0,387.0 247.5,386.2 248.0,387.1 248.5,386.1 249.0,387.0 249.5,386.5 250.0,387.0 250.5,386.2 251.0,387.8 251.5,385.5 252.0,388.2 252.5,385.0 253.0,389.9 253.5,385.2 254.0,390.5 254.5,383.8 255.0,388.8 255.5,384.5 256.0,392.9 256.5,381.6 257.0,391.0 257.5,384.4 258.0,394.9 258.5,380.7 259.0,399.1 259.5,383.0 260.0,392.1 260.5,382.4 261.0,389.3 261.5,383.4 262.0,390.0 262.5,383.2 263.0,388.1 263.5,384.5 264.0,385.6 264.5,388.4 265.0,387.5 265.5,386.3 266.0,385.9 266.5,387.7 267.0,387.3 267.5,386.4 268.0,387.1 268.5,387.7 269.0,386.1 269.5,387.5 270.0,386.4 270.5,387.3 271.0,386.2 271.5,387.3 272.0,386.1 272.5,384.7 273.0,387.5 273.5,386.0 274.0,386.0 274.5,387.4 275.0,387.4 275.5,385.9 276.0,387.5 276.5,386.1 277.0,387.5 277.5,385.1 278.0,387.1 278.5,386.4 279.0,387.2 279.5,389.4 280.0,387.3 280.5,386.0 281.0,386.4 281.5,387.6 282.0,386.2 282.5,387.2 283.0,386.1 283.5,387.2 284.0,388.8 284.5,388.1 285.0,386.1 285.5,386.2 286.0,387.6 286.5,390.6 287.0,386.2 287.5,387.3 288.0,385.6 288.5,387.3 289.0,387.6 289.5,384.9 290.0,387.3 290.5,385.7 291.0,387.9 291.5,386.2 292.0,387.4 292.5,385.6 293.0,387.6 293.5,384.9 294.0,387.2 294.5,386.2 295.0,387.3 295.5,387.2 296.0,386.1 296.5,387.3 297.0,386.1 297.5,387.6 298.0,385.9 298.5,386.3 299.0,387.7 299.5,385.8 300.0,387.4 300.5,386.0 301.0,387.7 301.5,385.7 302.0,387.2 302.5,386.1 303.0,387.2 303.5,386.0 304.0,387.3 304.5,386.2 305.0,387.4 305.5,385.8 306.0,388.2 306.5,385.8 307.0,388.7 307.5,387.2 308.0,385.7 308.5,389.6 309.0,383.6 309.5,388.6 310.0,386.4 310.5,387.7 311.0,386.0 311.5,387.9 312.0,385.7 312.5,387.5 313.0,386.2 313.5,386.0 314.0,387.4 314.5,385.9 315.0,387.3 315.5,386.3 316.0,387.4 316.5,387.7 317.0,386.2 317.5,388.6 318.0,386.3 318.5,388.1 319.0,385.9 319.5,383.8 320.0,388.7 320.5,382.9 321.0,382.8 321.5,387.9 322.0,385.5 322.5,391.4 323.0,383.1 323.5,393.5 324.0,385.3 324.5,389.1 325.0,385.0 325.5,387.9 326.0,386.2 326.5,388.5 327.0,385.3 327.5,388.3 328.0,388.5 328.5,386.1 329.0,387.4 329.5,385.6 330.0,387.8 330.5,385.5 331.0,387.7 331.5,385.6 332.0,388.1 332.5,384.0 333.0,388.5 333.5,385.8 334.0,387.3 334.5,387.9 335.0,386.1 335.5,388.3 336.0,385.4 336.5,387.9 337.0,386.1 337.5,386.0 338.0,387.4 338.5,386.0 339.0,387.4 339.5,386.2 340.0,389.1 340.5,385.8 341.0,387.7 341.5,387.5 342.0,387.4 342.5,385.9 343.0,387.3 343.5,386.0 344.0,387.7 344.5,386.3 345.0,387.5 345.5,385.7 346.0,388.0 346.5,386.1 347.0,385.8 347.5,388.9 348.0,385.9 348.5,387.4 349.0,385.8 349.5,387.4 350.0,385.9 350.5,387.4 351.0,386.3 351.5,389.8 352.0,386.0 352.5,387.4 353.0,387.1 353.5,386.5 354.0,387.8 354.5,385.8 355.0,387.4 355.5,385.9 356.0,387.5 356.5,387.4 357.0,385.9 357.5,387.9 358.0,386.2 358.5,387.7 359.0,386.1 359.5,387.4 360.0,386.5 360.5,385.3 361.0,388.7 361.5,385.9 362.0,387.6 362.5,386.1 363.0,387.3 363.5,387.7 364.0,386.0 364.5,387.2 365.0,385.2 365.5,387.4 366.0,384.1 366.5,389.2 367.0,386.3 367.5,387.6 368.0,385.9 368.5,387.2 369.0,386.2 369.5,387.3 370.0,386.3 370.5,387.2 371.0,386.5 371.5,387.2 372.0,386.2 372.5,387.1 373.0,386.6 373.5,387.2 374.0,387.1 374.5,386.2 375.0,385.6 375.5,387.2 376.0,386.5 376.5,386.5 377.0,387.3 377.5,385.9 378.0,387.2 378.5,387.2 379.0,386.6 379.5,387.1 380.0,386.5 380.5,387.2 381.0,386.4 381.5,387.2 382.0,386.5 382.5,387.1 383.0,387.1 383.5,386.3 384.0,387.3 384.5,387.3 385.0,386.3 385.5,385.5 386.0,387.1 386.5,387.0 387.0,386.6 387.5,387.1 388.0,386.3 388.5,387.3 389.0,386.5 389.5,387.7 390.0,386.6 390.5,387.3 391.0,387.0 391.5,386.4 392.0,387.0 392.5,386.6 393.0,387.2 393.5,386.4 394.0,387.2 394.5,386.6 395.0,387.1 395.5,387.3 396.0,386.5 396.5,387.2 397.0,386.5 397.5,387.4 398.0,386.5 398.5,387.3 399.0,387.3 399.5,387.1 400.0,386.4 400.5,387.7 401.0,387.1 401.5,386.5 402.0,387.4 402.5,386.5 403.0,386.4 403.5,387.3 404.0,385.8 404.5,387.1 405.0,387.0 405.5,386.5 406.0,387.3 406.5,387.4 407.0,386.3 407.5,387.4 408.0,385.8 408.5,387.4 409.0,386.6 409.5,387.0 410.0,386.4 410.5,387.3 411.0,386.6 411.5,387.3 412.0,387.0 412.5,386.4 413.0,387.7 413.5,386.4 414.0,387.2 414.5,386.5 415.0,387.1 415.5,386.5 416.0,387.3 416.5,387.2 417.0,386.3 417.5,387.0 418.0,386.3 418.5,387.2 419.0,386.0 419.5,387.3 420.0,386.2 420.5,387.3 421.0,386.4 421.5,386.4 422.0,386.5 422.5,387.1 423.0,386.5 423.5,387.1 424.0,386.2 424.5,387.1 425.0,386.5 425.5,387.0 426.0,386.6 426.5,386.6 427.0,386.5 427.5,387.1 428.0,386.5 428.5,387.2 429.0,386.0 429.5,387.1 430.0,386.5 430.5,387.3 431.0,386.5 431.5,387.2 432.0,386.3 432.5,387.3 433.0,386.3 433.5,387.0 434.0,386.4 434.5,386.6 435.0,387.2 435.5,386.5 436.0,387.2 436.5,385.5 437.0,387.0 437.5,386.3 438.0,386.6 438.5,387.2 439.0,387.1 439.5,386.0 440.0,386.5 440.5,387.2 441.0,386.2 441.5,387.1 442.0,386.4 442.5,387.1 443.0,386.5 443.5,386.5 444.0,387.0 444.5,386.6 445.0,387.6 445.5,386.4 446.0,386.3 446.5,387.0 447.0,386.6 447.5,387.2 448.0,386.5 448.5,386.4 449.0,387.2 449.5,386.5 450.0,387.2 450.5,387.2 451.0,386.3 451.5,387.2 452.0,386.6 452.5,387.5 453.0,386.6 453.5,387.0 454.0,386.4 454.5,386.4 455.0,387.2 455.5,386.4 456.0,387.0 456.5,386.4 457.0,387.1 457.5,387.1 458.0,386.6 458.5,387.2 459.0,386.4 459.5,387.0 460.0,386.4 460.5,387.3 461.0,385.5 461.5,386.4 462.0,387.1 462.5,386.6 463.0,387.2 463.5,386.6 464.0,387.2 464.5,386.6 465.0,387.2 465.5,387.2 466.0,386.9 466.5,386.5 467.0,387.2 467.5,385.5 468.0,388.0 468.5,386.7 469.0,387.1 469.5,386.4 470.0,387.9 470.5,386.6 471.0,386.9 471.5,386.5 472.0,387.1 472.5,386.4 473.0,387.0 473.5,386.6 474.0,387.0 474.5,386.4 475.0,387.0 475.5,386.5 476.0,386.9 476.5,386.6 477.0,386.6 477.5,386.4 478.0,387.1 478.5,386.5 479.0,387.1 479.5,386.4 480.0,387.5 480.5,387.3 481.0,387.2 481.5,386.4 482.0,387.2 482.5,386.5 483.0,387.2 483.5,386.6 484.0,386.7 484.5,386.9 485.0,386.6 485.5,387.1 486.0,386.4 486.5,386.9 487.0,386.4 487.5,387.0 488.0,386.5 488.5,387.1 489.0,386.6 489.5,386.7 490.0,386.9 490.5,386.5 491.0,387.0 491.5,386.5 492.0,386.9 492.5,386.6 493.0,387.1 493.5,386.6 494.0,387.0 494.5,386.6 495.0,387.2 495.5,387.0 496.0,387.0 496.5,386.6 497.0,387.2 497.5,386.5 498.0,387.1 498.5,386.6 499.0,387.4 499.5,386.6 500.0,387.1 500.5,387.0 501.0,386.5 501.5,387.1 502.0,387.1 502.5,386.4 503.0,387.0 503.5,386.6 504.0,387.2 504.5,387.2 505.0,386.5 505.5,387.0 506.0,386.6 506.5,387.1 507.0,386.5 507.5,386.5 508.0,387.3 508.5,387.0 509.0,386.5 509.5,387.0 510.0,386.4 510.5,387.2 511.0,387.1 511.5,386.6 512.0,387.8 512.5,386.5 513.0,387.0 513.5,386.5 514.0,386.6 514.5,386.6 515.0,387.2 515.5,386.6 516.0,386.9 516.5,386.5 517.0,387.0 517.5,386.6 518.0,387.5 518.5,387.1 519.0,386.6 519.5,386.6 520.0,387.1 520.5,386.4 521.0,387.1 521.5,386.6 522.0,387.0 522.5,386.5 523.0,387.1 523.5,386.6 524.0,387.1 524.5,386.9 525.0,386.5 525.5,387.0 526.0,386.6 526.5,387.1 527.0,386.3 527.5,387.2 528.0,386.5 528.5,386.4 529.0,387.0 529.5,386.6 530.0,386.5 530.5,387.2 531.0,386.5 531.5,387.0 532.0,386.5 532.5,387.1 533.0,386.4 533.5,387.2 534.0,386.6 534.5,387.0 535.0,387.1 535.5,386.5 536.0,387.1 536.5,386.5 537.0,387.8 537.5,386.6 538.0,386.6 538.5,387.1 539.0,386.6 539.5,387.1 540.0,386.6 540.5,387.1 541.0,386.5 541.5,387.2 542.0,386.5 542.5,387.1 543.0,386.6 543.5,387.0 544.0,386.5 544.5,387.2 545.0,386.7 545.5,387.1 546.0,386.6 546.5,386.9 547.0,386.6 547.5,386.4 548.0,387.0 548.5,386.5 549.0,387.1 549.5,385.7 550.0,387.1 550.5,387.0 551.0,386.6 551.5,387.1 552.0,386.6 552.5,387.2 553.0,386.6 553.5,386.5 554.0,387.1 554.5,387.2 555.0,386.6 555.5,387.1 556.0,386.0 556.5,386.9 557.0,387.1 557.5,386.7 558.0,387.3 558.5,386.5 559.0,387.0 559.5,386.6 560.0,387.0 560.5,385.9 561.0,387.2 561.5,386.6 562.0,387.1 562.5,386.5 563.0,387.1 563.5,386.5 564.0,386.6 564.5,387.2 565.0,386.6 565.5,386.4 566.0,387.1 566.5,386.5 567.0,386.4 567.5,387.0 568.0,386.5 568.5,386.5 569.0,387.2 569.5,386.1 570.0,387.1 570.5,386.4 571.0,387.0 571.5,387.1 572.0,386.5 572.5,387.1 573.0,385.8 573.5,387.2 574.0,387.1 574.5,386.6 575.0,387.2 575.5,385.7 576.0,386.9 576.5,386.4 577.0,387.2 577.5,386.5 578.0,387.1 578.5,386.6 579.0,387.1 579.5,386.6 580.0,387.0 580.5,386.6 581.0,387.2 581.5,386.5 582.0,387.0 582.5,386.5 583.0,388.2 583.5,386.6 584.0,386.6 584.5,387.2 585.0,386.6 585.5,387.2 586.0,385.9 586.5,387.2 587.0,386.6 587.5,387.0 588.0,385.5 588.5,387.0 589.0,386.4 589.5,387.5 590.0,386.6 590.5,387.0 591.0,386.6 591.5,387.1 592.0,386.4 592.5,386.9 593.0,386.5 593.5,386.6 594.0,387.1 594.5,387.0 595.0,386.4 595.5,387.3 596.0,386.4 596.5,387.3 597.0,387.1 597.5,387.3 598.0,387.3 598.5,386.3 599.0,387.2 599.5,386.6 600.0,387.2 600.5,386.3 601.0,386.4 601.5,387.2 602.0,386.2 602.5,387.1 603.0,385.3 603.5,387.2 604.0,386.1 604.5,385.7 605.0,387.5 605.5,386.0 606.0,387.9 606.5,385.8 607.0,387.6 607.5,385.8 608.0,386.3 608.5,387.8 609.0,385.7 609.5,387.4 610.0,386.0 610.5,388.6 611.0,385.5 611.5,387.4 612.0,385.4 612.5,388.0 613.0,387.4 613.5,386.1 614.0,388.1 614.5,386.3 615.0,387.2 615.5,387.3 616.0,386.4 616.5,387.4 617.0,386.4 617.5,386.6 618.0,387.3 618.5,386.4 619.0,387.2 619.5,386.1 620.0,387.5 620.5,386.5 621.0,387.1" fill="none" stroke="#f010f0" stroke-width="1" stroke-linejoin="round"/>

<!-- pie -->
<path d="M518,196 L518.00,100.30 A95.7,95.7 0 1 1 459.58,271.80 Z" fill="url(#gR2)"/>
<path d="M518,196 L459.58,271.80 A95.7,95.7 0 0 1 453.88,124.95 Z" fill="url(#gB)"/>
<path d="M518,196 L453.88,124.95 A95.7,95.7 0 0 1 518.00,100.30 Z" fill="url(#gG)"/>
<path d="M419.5,43.5 L419.5,28.5 A15,15 0 0 1 434.5,43.5 Z" fill="#ff0000"/>
<path d="M419.5,66.8 L419.5,51.8 A15,15 0 0 1 434.5,66.8 Z" fill="#0000ff"/>
<path d="M419.5,90 L419.5,75 A15,15 0 0 1 434.5,90 Z" fill="#008000"/>
<g font-size="14" fill="#484848">
<text x="440" y="40.7">Polymorph I : 60.45(3)%</text>
<text x="440" y="64.2">Polymorph II : 27.865(14)%</text>
<text x="440" y="87.7">Polymorph III : 11.69(5)%</text>
</g>
</svg>
</body></html>
